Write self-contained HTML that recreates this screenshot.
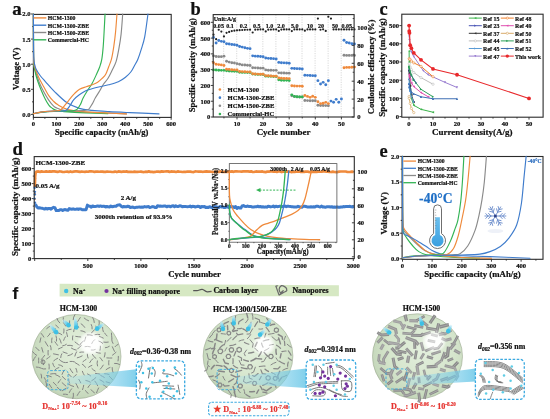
<!DOCTYPE html>
<html><head><meta charset="utf-8"><style>
html,body{margin:0;padding:0;background:#fff;width:550px;height:419px;overflow:hidden}
svg{display:block;filter:blur(0.3px)}
</style></head><body>
<svg width="550" height="419" viewBox="0 0 550 419">
<rect width="550" height="419" fill="#fff"/>
<text x="12.2" y="15" font-size="19" text-anchor="start" fill="#111" stroke="#111" stroke-width="0.22" style="font-family:'Liberation Serif',serif;font-weight:bold;">a</text>
<rect x="33.4" y="14.4" width="137.8" height="103" fill="none" stroke="#2b2b2b" stroke-width="1.1"/>
<line x1="33.4" y1="117.4" x2="33.4" y2="119.8" stroke="#2b2b2b" stroke-width="0.9" />
<text x="33.4" y="125.9" font-size="6.6" text-anchor="middle" fill="#111" stroke="#111" stroke-width="0.22" style="font-family:'Liberation Serif',serif;font-weight:bold;">0</text>
<line x1="44.88" y1="117.4" x2="44.88" y2="118.8" stroke="#2b2b2b" stroke-width="0.9" />
<line x1="56.36" y1="117.4" x2="56.36" y2="119.8" stroke="#2b2b2b" stroke-width="0.9" />
<text x="56.36" y="125.9" font-size="6.6" text-anchor="middle" fill="#111" stroke="#111" stroke-width="0.22" style="font-family:'Liberation Serif',serif;font-weight:bold;">100</text>
<line x1="67.84" y1="117.4" x2="67.84" y2="118.8" stroke="#2b2b2b" stroke-width="0.9" />
<line x1="79.32" y1="117.4" x2="79.32" y2="119.8" stroke="#2b2b2b" stroke-width="0.9" />
<text x="79.32" y="125.9" font-size="6.6" text-anchor="middle" fill="#111" stroke="#111" stroke-width="0.22" style="font-family:'Liberation Serif',serif;font-weight:bold;">200</text>
<line x1="90.8" y1="117.4" x2="90.8" y2="118.8" stroke="#2b2b2b" stroke-width="0.9" />
<line x1="102.28" y1="117.4" x2="102.28" y2="119.8" stroke="#2b2b2b" stroke-width="0.9" />
<text x="102.28" y="125.9" font-size="6.6" text-anchor="middle" fill="#111" stroke="#111" stroke-width="0.22" style="font-family:'Liberation Serif',serif;font-weight:bold;">300</text>
<line x1="113.76" y1="117.4" x2="113.76" y2="118.8" stroke="#2b2b2b" stroke-width="0.9" />
<line x1="125.24" y1="117.4" x2="125.24" y2="119.8" stroke="#2b2b2b" stroke-width="0.9" />
<text x="125.24" y="125.9" font-size="6.6" text-anchor="middle" fill="#111" stroke="#111" stroke-width="0.22" style="font-family:'Liberation Serif',serif;font-weight:bold;">400</text>
<line x1="136.72" y1="117.4" x2="136.72" y2="118.8" stroke="#2b2b2b" stroke-width="0.9" />
<line x1="148.2" y1="117.4" x2="148.2" y2="119.8" stroke="#2b2b2b" stroke-width="0.9" />
<text x="148.2" y="125.9" font-size="6.6" text-anchor="middle" fill="#111" stroke="#111" stroke-width="0.22" style="font-family:'Liberation Serif',serif;font-weight:bold;">500</text>
<line x1="159.68" y1="117.4" x2="159.68" y2="118.8" stroke="#2b2b2b" stroke-width="0.9" />
<line x1="171.16" y1="117.4" x2="171.16" y2="119.8" stroke="#2b2b2b" stroke-width="0.9" />
<text x="171.16" y="125.9" font-size="6.6" text-anchor="middle" fill="#111" stroke="#111" stroke-width="0.22" style="font-family:'Liberation Serif',serif;font-weight:bold;">600</text>
<line x1="33.4" y1="114.4" x2="31" y2="114.4" stroke="#2b2b2b" stroke-width="0.9" />
<text x="30.6" y="116.8" font-size="6.6" text-anchor="end" fill="#111" stroke="#111" stroke-width="0.22" style="font-family:'Liberation Serif',serif;font-weight:bold;">0.0</text>
<line x1="33.4" y1="101.85" x2="32" y2="101.85" stroke="#2b2b2b" stroke-width="0.9" />
<line x1="33.4" y1="89.3" x2="31" y2="89.3" stroke="#2b2b2b" stroke-width="0.9" />
<text x="30.6" y="91.7" font-size="6.6" text-anchor="end" fill="#111" stroke="#111" stroke-width="0.22" style="font-family:'Liberation Serif',serif;font-weight:bold;">0.5</text>
<line x1="33.4" y1="76.75" x2="32" y2="76.75" stroke="#2b2b2b" stroke-width="0.9" />
<line x1="33.4" y1="64.2" x2="31" y2="64.2" stroke="#2b2b2b" stroke-width="0.9" />
<text x="30.6" y="66.6" font-size="6.6" text-anchor="end" fill="#111" stroke="#111" stroke-width="0.22" style="font-family:'Liberation Serif',serif;font-weight:bold;">1.0</text>
<line x1="33.4" y1="51.65" x2="32" y2="51.65" stroke="#2b2b2b" stroke-width="0.9" />
<line x1="33.4" y1="39.1" x2="31" y2="39.1" stroke="#2b2b2b" stroke-width="0.9" />
<text x="30.6" y="41.5" font-size="6.6" text-anchor="end" fill="#111" stroke="#111" stroke-width="0.22" style="font-family:'Liberation Serif',serif;font-weight:bold;">1.5</text>
<line x1="33.4" y1="26.55" x2="32" y2="26.55" stroke="#2b2b2b" stroke-width="0.9" />
<line x1="33.4" y1="14" x2="31" y2="14" stroke="#2b2b2b" stroke-width="0.9" />
<text x="30.6" y="16.4" font-size="6.6" text-anchor="end" fill="#111" stroke="#111" stroke-width="0.22" style="font-family:'Liberation Serif',serif;font-weight:bold;">2.0</text>
<text x="101.7" y="135" font-size="8.55" text-anchor="middle" fill="#111" stroke="#111" stroke-width="0.22" style="font-family:'Liberation Serif',serif;font-weight:bold;">Specific capacity (mAh/g)</text>
<text x="0" y="0" font-size="8.8" text-anchor="middle" fill="#111" stroke="#111" stroke-width="0.22" style="font-family:'Liberation Serif',serif;font-weight:bold;" transform="translate(18.7 68.7) rotate(-90)">Voltage (V)</text>
<g fill="none" stroke-width="1.05" stroke-linecap="round">
<path d="M33.4,14 C33.41,18.18 33.43,31.57 33.47,39.1 C33.51,46.63 33.53,54.66 33.63,59.18 C33.73,63.7 33.67,63.87 34.09,66.21 C34.51,68.55 35.28,70.48 36.16,73.24 C37.04,76 38.11,79.68 39.37,82.77 C40.63,85.87 42.2,88.97 43.73,91.81 C45.26,94.65 47.02,97.58 48.55,99.84 C50.08,102.1 51.61,104.03 52.92,105.36 C54.22,106.7 54.48,107.04 56.36,107.87 C58.24,108.71 60.34,109.71 64.17,110.38 C67.99,111.05 72.97,111.47 79.32,111.89 C85.67,112.31 94.44,112.56 102.28,112.89 C110.12,113.23 122.37,113.73 126.39,113.9" stroke="#8a8a8a" stroke-width="1.15" fill="none" />
<path d="M33.4,14 C33.41,18.18 33.43,31.57 33.47,39.1 C33.51,46.63 33.53,54.66 33.63,59.18 C33.73,63.7 33.74,63.7 34.09,66.21 C34.43,68.72 35.08,71.73 35.7,74.24 C36.31,76.75 36.81,78.51 37.76,81.27 C38.72,84.03 40.13,87.71 41.44,90.81 C42.74,93.9 44.31,97.42 45.57,99.84 C46.83,102.27 47.98,104.03 49.01,105.36 C50.05,106.7 50.54,107.04 51.77,107.87 C52.99,108.71 53.68,109.71 56.36,110.38 C59.04,111.05 62.87,111.47 67.84,111.89 C72.81,112.31 79.55,112.6 86.21,112.89 C92.87,113.19 104.19,113.52 107.79,113.65" stroke="#33b455" stroke-width="1.15" fill="none" />
<path d="M33.4,14 C33.41,18.18 33.43,31.74 33.47,39.1 C33.51,46.46 33.53,53.99 33.63,58.18 C33.73,62.36 33.67,62.02 34.09,64.2 C34.51,66.38 35.28,68.8 36.16,71.23 C37.04,73.65 38.11,76.16 39.37,78.76 C40.63,81.35 42.2,84.03 43.73,86.79 C45.26,89.55 46.91,92.9 48.55,95.32 C50.2,97.75 52.04,99.76 53.6,101.35 C55.17,102.94 55.71,103.52 57.97,104.86 C60.22,106.2 63.59,108.29 67.15,109.38 C70.71,110.47 73.85,110.84 79.32,111.39 C84.79,111.93 92.14,112.22 99.98,112.64 C107.83,113.06 121.99,113.69 126.39,113.9" stroke="#ef8a3c" stroke-width="1.15" fill="none" />
<path d="M33.4,14 C33.42,17.35 33.43,26.97 33.49,34.08 C33.55,41.19 33.57,51.65 33.74,56.67 C33.92,61.69 34.15,62.11 34.55,64.2 C34.95,66.29 35.2,67.3 36.16,69.22 C37.11,71.14 38.72,73.65 40.29,75.75 C41.86,77.84 43.16,79.09 45.57,81.77 C47.98,84.45 51.16,88.3 54.75,91.81 C58.35,95.32 63.06,100.09 67.15,102.85 C71.25,105.61 75.19,107.12 79.32,108.38 C83.45,109.63 86.97,109.84 91.95,110.38 C96.92,110.93 102.85,111.26 109.17,111.64 C115.48,112.02 121.53,112.27 129.83,112.64 C138.14,113.02 154.13,113.69 158.99,113.9" stroke="#3f7ccc" stroke-width="1.15" fill="none" />
<path d="M33.4,113.65 C35.7,113.31 41.44,112.1 47.18,111.64 C52.92,111.18 61.91,111.05 67.84,110.89 C73.77,110.72 79.32,110.89 82.76,110.64 C86.21,110.38 86.97,110.43 88.5,109.38 C90.03,108.33 90.8,106.28 91.95,104.36 C93.1,102.44 94.09,100.09 95.39,97.83 C96.69,95.58 98.42,93.07 99.75,90.81 C101.09,88.55 102.05,86.37 103.43,84.28 C104.81,82.19 106.57,80.6 108.02,78.26 C109.47,75.91 110.81,72.98 112.15,70.22 C113.49,67.46 114.95,65.2 116.06,61.69 C117.17,58.18 117.97,53.74 118.81,49.14 C119.65,44.54 120.46,39.94 121.11,34.08 C121.76,28.22 122.45,17.35 122.71,14" stroke="#8a8a8a" stroke-width="1.15" fill="none" />
<path d="M33.4,113.65 C35.31,113.35 40.29,112.31 44.88,111.89 C49.47,111.47 56.36,111.3 60.95,111.14 C65.54,110.97 69.75,111.18 72.43,110.89 C75.11,110.59 75.68,110.47 77.02,109.38 C78.36,108.29 79.47,106.2 80.47,104.36 C81.46,102.52 81.85,100.6 82.99,98.34 C84.14,96.08 85.83,93.32 87.36,90.81 C88.89,88.3 90.65,86.04 92.18,83.28 C93.71,80.52 95.28,77 96.54,74.24 C97.8,71.48 98.87,69.22 99.75,66.71 C100.63,64.2 101.25,62.53 101.82,59.18 C102.39,55.83 102.82,51.23 103.2,46.63 C103.58,42.03 103.81,37.01 104.12,31.57 C104.42,26.13 104.88,16.93 105.04,14" stroke="#33b455" stroke-width="1.15" fill="none" />
<path d="M33.4,113.65 C34.93,113.35 38.76,112.35 42.58,111.89 C46.41,111.43 52.53,111.1 56.36,110.89 C60.19,110.68 63.25,111.56 65.54,110.64 C67.84,109.71 68.8,107.16 70.14,105.36 C71.48,103.57 72.05,101.6 73.58,99.84 C75.11,98.09 77.29,96.33 79.32,94.82 C81.35,93.32 83.64,91.81 85.75,90.81 C87.85,89.8 89.61,89.47 91.95,88.8 C94.28,88.13 96.96,87.46 99.75,86.79 C102.55,86.12 105.61,85.62 108.71,84.78 C111.81,83.95 115.56,83.03 118.35,81.77 C121.15,80.52 123.36,78.93 125.47,77.25 C127.57,75.58 129.49,73.65 130.98,71.73 C132.47,69.81 133.28,67.8 134.42,65.71 C135.57,63.61 136.72,61.94 137.87,59.18 C139.02,56.42 140.16,52.91 141.31,49.14 C142.46,45.38 143.65,42.45 144.76,36.59 C145.87,30.73 147.43,17.77 147.97,14" stroke="#3f7ccc" stroke-width="1.15" fill="none" />
<path d="M33.4,113.65 C34.93,113.35 39.14,112.35 42.58,111.89 C46.03,111.43 51.08,111.22 54.06,110.89 C57.05,110.55 58.58,110.97 60.49,109.88 C62.41,108.79 63.9,106.28 65.54,104.36 C67.19,102.44 68.83,100.18 70.37,98.34 C71.9,96.5 73.2,94.82 74.73,93.32 C76.26,91.81 77.64,90.39 79.55,89.3 C81.46,88.21 84.1,87.54 86.21,86.79 C88.31,86.04 90.26,85.54 92.18,84.78 C94.09,84.03 96,83.36 97.69,82.27 C99.37,81.18 100.94,79.59 102.28,78.26 C103.62,76.92 104.65,76.16 105.72,74.24 C106.8,72.32 107.75,69.22 108.71,66.71 C109.67,64.2 110.62,62.53 111.46,59.18 C112.31,55.83 113.07,51.23 113.76,46.63 C114.45,42.03 115.06,37.01 115.6,31.57 C116.13,26.13 116.74,16.93 116.97,14" stroke="#ef8a3c" stroke-width="1.15" fill="none" />
</g>
<line x1="33.6" y1="17.9" x2="46.3" y2="17.9" stroke="#ef8a3c" stroke-width="1.4" />
<text x="0" y="0" font-size="6.6" text-anchor="start" fill="#111" stroke="#111" stroke-width="0.22" style="font-family:'Liberation Serif',serif;font-weight:bold;" transform="translate(47.8 20.2) scale(0.88,1)">HCM-1300</text>
<line x1="33.6" y1="25.2" x2="46.3" y2="25.2" stroke="#3f7ccc" stroke-width="1.4" />
<text x="0" y="0" font-size="6.6" text-anchor="start" fill="#111" stroke="#111" stroke-width="0.22" style="font-family:'Liberation Serif',serif;font-weight:bold;" transform="translate(47.8 27.5) scale(0.88,1)">HCM-1300-ZBE</text>
<line x1="33.6" y1="32.5" x2="46.3" y2="32.5" stroke="#8a8a8a" stroke-width="1.4" />
<text x="0" y="0" font-size="6.6" text-anchor="start" fill="#111" stroke="#111" stroke-width="0.22" style="font-family:'Liberation Serif',serif;font-weight:bold;" transform="translate(47.8 34.8) scale(0.88,1)">HCM-1500-ZBE</text>
<line x1="33.6" y1="39.8" x2="46.3" y2="39.8" stroke="#33b455" stroke-width="1.4" />
<text x="0" y="0" font-size="6.6" text-anchor="start" fill="#111" stroke="#111" stroke-width="0.22" style="font-family:'Liberation Serif',serif;font-weight:bold;" transform="translate(47.8 42.1) scale(0.88,1)">Commercial-HC</text>
<text x="190.6" y="15" font-size="18.4" text-anchor="start" fill="#111" stroke="#111" stroke-width="0.22" style="font-family:'Liberation Serif',serif;font-weight:bold;">b</text>
<line x1="223.66" y1="14.6" x2="223.66" y2="117" stroke="#c8c8c8" stroke-width="0.7" stroke-dasharray="1.2,1.2"/>
<line x1="236.72" y1="14.6" x2="236.72" y2="117" stroke="#c8c8c8" stroke-width="0.7" stroke-dasharray="1.2,1.2"/>
<line x1="249.78" y1="14.6" x2="249.78" y2="117" stroke="#c8c8c8" stroke-width="0.7" stroke-dasharray="1.2,1.2"/>
<line x1="262.84" y1="14.6" x2="262.84" y2="117" stroke="#c8c8c8" stroke-width="0.7" stroke-dasharray="1.2,1.2"/>
<line x1="275.9" y1="14.6" x2="275.9" y2="117" stroke="#c8c8c8" stroke-width="0.7" stroke-dasharray="1.2,1.2"/>
<line x1="288.96" y1="14.6" x2="288.96" y2="117" stroke="#c8c8c8" stroke-width="0.7" stroke-dasharray="1.2,1.2"/>
<line x1="302.02" y1="14.6" x2="302.02" y2="117" stroke="#c8c8c8" stroke-width="0.7" stroke-dasharray="1.2,1.2"/>
<line x1="315.08" y1="14.6" x2="315.08" y2="117" stroke="#c8c8c8" stroke-width="0.7" stroke-dasharray="1.2,1.2"/>
<line x1="328.14" y1="14.6" x2="328.14" y2="117" stroke="#c8c8c8" stroke-width="0.7" stroke-dasharray="1.2,1.2"/>
<line x1="341.2" y1="14.6" x2="341.2" y2="117" stroke="#c8c8c8" stroke-width="0.7" stroke-dasharray="1.2,1.2"/>
<line x1="223.95" y1="117" x2="223.95" y2="118.4" stroke="#2b2b2b" stroke-width="0.9" />
<line x1="237" y1="117" x2="237" y2="119.4" stroke="#2b2b2b" stroke-width="0.9" />
<text x="237" y="125.5" font-size="6.6" text-anchor="middle" fill="#111" stroke="#111" stroke-width="0.22" style="font-family:'Liberation Serif',serif;font-weight:bold;">10</text>
<line x1="250.05" y1="117" x2="250.05" y2="118.4" stroke="#2b2b2b" stroke-width="0.9" />
<line x1="263.1" y1="117" x2="263.1" y2="119.4" stroke="#2b2b2b" stroke-width="0.9" />
<text x="263.1" y="125.5" font-size="6.6" text-anchor="middle" fill="#111" stroke="#111" stroke-width="0.22" style="font-family:'Liberation Serif',serif;font-weight:bold;">20</text>
<line x1="276.15" y1="117" x2="276.15" y2="118.4" stroke="#2b2b2b" stroke-width="0.9" />
<line x1="289.2" y1="117" x2="289.2" y2="119.4" stroke="#2b2b2b" stroke-width="0.9" />
<text x="289.2" y="125.5" font-size="6.6" text-anchor="middle" fill="#111" stroke="#111" stroke-width="0.22" style="font-family:'Liberation Serif',serif;font-weight:bold;">30</text>
<line x1="302.25" y1="117" x2="302.25" y2="118.4" stroke="#2b2b2b" stroke-width="0.9" />
<line x1="315.3" y1="117" x2="315.3" y2="119.4" stroke="#2b2b2b" stroke-width="0.9" />
<text x="315.3" y="125.5" font-size="6.6" text-anchor="middle" fill="#111" stroke="#111" stroke-width="0.22" style="font-family:'Liberation Serif',serif;font-weight:bold;">40</text>
<line x1="328.35" y1="117" x2="328.35" y2="118.4" stroke="#2b2b2b" stroke-width="0.9" />
<line x1="341.4" y1="117" x2="341.4" y2="119.4" stroke="#2b2b2b" stroke-width="0.9" />
<text x="341.4" y="125.5" font-size="6.6" text-anchor="middle" fill="#111" stroke="#111" stroke-width="0.22" style="font-family:'Liberation Serif',serif;font-weight:bold;">50</text>
<line x1="213.2" y1="117" x2="210.8" y2="117" stroke="#2b2b2b" stroke-width="0.9" />
<text x="210.4" y="119.4" font-size="6.6" text-anchor="end" fill="#111" stroke="#111" stroke-width="0.22" style="font-family:'Liberation Serif',serif;font-weight:bold;">0</text>
<line x1="213.2" y1="109.11" x2="211.8" y2="109.11" stroke="#2b2b2b" stroke-width="0.9" />
<line x1="213.2" y1="101.22" x2="210.8" y2="101.22" stroke="#2b2b2b" stroke-width="0.9" />
<text x="210.4" y="103.62" font-size="6.6" text-anchor="end" fill="#111" stroke="#111" stroke-width="0.22" style="font-family:'Liberation Serif',serif;font-weight:bold;">100</text>
<line x1="213.2" y1="93.33" x2="211.8" y2="93.33" stroke="#2b2b2b" stroke-width="0.9" />
<line x1="213.2" y1="85.44" x2="210.8" y2="85.44" stroke="#2b2b2b" stroke-width="0.9" />
<text x="210.4" y="87.84" font-size="6.6" text-anchor="end" fill="#111" stroke="#111" stroke-width="0.22" style="font-family:'Liberation Serif',serif;font-weight:bold;">200</text>
<line x1="213.2" y1="77.55" x2="211.8" y2="77.55" stroke="#2b2b2b" stroke-width="0.9" />
<line x1="213.2" y1="69.66" x2="210.8" y2="69.66" stroke="#2b2b2b" stroke-width="0.9" />
<text x="210.4" y="72.06" font-size="6.6" text-anchor="end" fill="#111" stroke="#111" stroke-width="0.22" style="font-family:'Liberation Serif',serif;font-weight:bold;">300</text>
<line x1="213.2" y1="61.77" x2="211.8" y2="61.77" stroke="#2b2b2b" stroke-width="0.9" />
<line x1="213.2" y1="53.88" x2="210.8" y2="53.88" stroke="#2b2b2b" stroke-width="0.9" />
<text x="210.4" y="56.28" font-size="6.6" text-anchor="end" fill="#111" stroke="#111" stroke-width="0.22" style="font-family:'Liberation Serif',serif;font-weight:bold;">400</text>
<line x1="213.2" y1="45.99" x2="211.8" y2="45.99" stroke="#2b2b2b" stroke-width="0.9" />
<line x1="213.2" y1="38.1" x2="210.8" y2="38.1" stroke="#2b2b2b" stroke-width="0.9" />
<text x="210.4" y="40.5" font-size="6.6" text-anchor="end" fill="#111" stroke="#111" stroke-width="0.22" style="font-family:'Liberation Serif',serif;font-weight:bold;">500</text>
<line x1="213.2" y1="30.21" x2="211.8" y2="30.21" stroke="#2b2b2b" stroke-width="0.9" />
<line x1="213.2" y1="22.32" x2="210.8" y2="22.32" stroke="#2b2b2b" stroke-width="0.9" />
<text x="210.4" y="24.72" font-size="6.6" text-anchor="end" fill="#111" stroke="#111" stroke-width="0.22" style="font-family:'Liberation Serif',serif;font-weight:bold;">600</text>
<line x1="354.1" y1="117" x2="351.7" y2="117" stroke="#2b2b2b" stroke-width="0.9" />
<text x="357.3" y="119.4" font-size="6.6" text-anchor="start" fill="#111" stroke="#111" stroke-width="0.22" style="font-family:'Liberation Serif',serif;font-weight:bold;">0</text>
<line x1="354.1" y1="108.05" x2="352.7" y2="108.05" stroke="#2b2b2b" stroke-width="0.9" />
<line x1="354.1" y1="99.1" x2="351.7" y2="99.1" stroke="#2b2b2b" stroke-width="0.9" />
<text x="357.3" y="101.5" font-size="6.6" text-anchor="start" fill="#111" stroke="#111" stroke-width="0.22" style="font-family:'Liberation Serif',serif;font-weight:bold;">20</text>
<line x1="354.1" y1="90.15" x2="352.7" y2="90.15" stroke="#2b2b2b" stroke-width="0.9" />
<line x1="354.1" y1="81.2" x2="351.7" y2="81.2" stroke="#2b2b2b" stroke-width="0.9" />
<text x="357.3" y="83.6" font-size="6.6" text-anchor="start" fill="#111" stroke="#111" stroke-width="0.22" style="font-family:'Liberation Serif',serif;font-weight:bold;">40</text>
<line x1="354.1" y1="72.25" x2="352.7" y2="72.25" stroke="#2b2b2b" stroke-width="0.9" />
<line x1="354.1" y1="63.3" x2="351.7" y2="63.3" stroke="#2b2b2b" stroke-width="0.9" />
<text x="357.3" y="65.7" font-size="6.6" text-anchor="start" fill="#111" stroke="#111" stroke-width="0.22" style="font-family:'Liberation Serif',serif;font-weight:bold;">60</text>
<line x1="354.1" y1="54.35" x2="352.7" y2="54.35" stroke="#2b2b2b" stroke-width="0.9" />
<line x1="354.1" y1="45.4" x2="351.7" y2="45.4" stroke="#2b2b2b" stroke-width="0.9" />
<text x="357.3" y="47.8" font-size="6.6" text-anchor="start" fill="#111" stroke="#111" stroke-width="0.22" style="font-family:'Liberation Serif',serif;font-weight:bold;">80</text>
<line x1="354.1" y1="36.45" x2="352.7" y2="36.45" stroke="#2b2b2b" stroke-width="0.9" />
<line x1="354.1" y1="27.5" x2="351.7" y2="27.5" stroke="#2b2b2b" stroke-width="0.9" />
<text x="357.3" y="29.9" font-size="6.6" text-anchor="start" fill="#111" stroke="#111" stroke-width="0.22" style="font-family:'Liberation Serif',serif;font-weight:bold;">100</text>
<line x1="354.1" y1="18.55" x2="352.7" y2="18.55" stroke="#2b2b2b" stroke-width="0.9" />
<text x="283.6" y="135.2" font-size="8.95" text-anchor="middle" fill="#111" stroke="#111" stroke-width="0.22" style="font-family:'Liberation Serif',serif;font-weight:bold;">Cycle number</text>
<text x="0" y="0" font-size="8.6" text-anchor="middle" fill="#111" stroke="#111" stroke-width="0.22" style="font-family:'Liberation Serif',serif;font-weight:bold;" transform="translate(195.3 65.2) rotate(-90)">Specific capacity (mAh/g)</text>
<text x="0" y="0" font-size="8.7" text-anchor="middle" fill="#111" stroke="#111" stroke-width="0.22" style="font-family:'Liberation Serif',serif;font-weight:bold;" transform="translate(373.8 67) rotate(-90)">Coulombic efficiency (%)</text>
<circle cx="213.51" cy="55.85" r="1.45" fill="#8a8a8a"/>
<circle cx="216.12" cy="56.47" r="1.45" fill="#8a8a8a"/>
<circle cx="218.73" cy="56.63" r="1.45" fill="#8a8a8a"/>
<circle cx="221.34" cy="56.63" r="1.45" fill="#8a8a8a"/>
<circle cx="223.95" cy="56.16" r="1.45" fill="#8a8a8a"/>
<circle cx="226.56" cy="61.31" r="1.45" fill="#8a8a8a"/>
<circle cx="229.17" cy="62.09" r="1.45" fill="#8a8a8a"/>
<circle cx="231.78" cy="62.71" r="1.45" fill="#8a8a8a"/>
<circle cx="234.39" cy="63.02" r="1.45" fill="#8a8a8a"/>
<circle cx="237" cy="63.65" r="1.45" fill="#8a8a8a"/>
<circle cx="239.61" cy="64.27" r="1.45" fill="#8a8a8a"/>
<circle cx="242.22" cy="64.9" r="1.45" fill="#8a8a8a"/>
<circle cx="244.83" cy="65.05" r="1.45" fill="#8a8a8a"/>
<circle cx="247.44" cy="65.21" r="1.45" fill="#8a8a8a"/>
<circle cx="250.05" cy="65.52" r="1.45" fill="#8a8a8a"/>
<circle cx="252.66" cy="67.7" r="1.45" fill="#8a8a8a"/>
<circle cx="255.27" cy="67.86" r="1.45" fill="#8a8a8a"/>
<circle cx="257.88" cy="68.02" r="1.45" fill="#8a8a8a"/>
<circle cx="260.49" cy="68.17" r="1.45" fill="#8a8a8a"/>
<circle cx="263.1" cy="68.17" r="1.45" fill="#8a8a8a"/>
<circle cx="265.71" cy="69.89" r="1.45" fill="#8a8a8a"/>
<circle cx="268.32" cy="70.2" r="1.45" fill="#8a8a8a"/>
<circle cx="270.93" cy="70.2" r="1.45" fill="#8a8a8a"/>
<circle cx="273.54" cy="70.36" r="1.45" fill="#8a8a8a"/>
<circle cx="276.15" cy="70.36" r="1.45" fill="#8a8a8a"/>
<circle cx="278.76" cy="72.85" r="1.45" fill="#8a8a8a"/>
<circle cx="281.37" cy="73.01" r="1.45" fill="#8a8a8a"/>
<circle cx="283.98" cy="73.01" r="1.45" fill="#8a8a8a"/>
<circle cx="286.59" cy="73.16" r="1.45" fill="#8a8a8a"/>
<circle cx="289.2" cy="73.16" r="1.45" fill="#8a8a8a"/>
<circle cx="291.81" cy="95.78" r="1.45" fill="#8a8a8a"/>
<circle cx="294.42" cy="96.56" r="1.45" fill="#8a8a8a"/>
<circle cx="297.03" cy="96.88" r="1.45" fill="#8a8a8a"/>
<circle cx="299.64" cy="97.03" r="1.45" fill="#8a8a8a"/>
<circle cx="302.25" cy="97.03" r="1.45" fill="#8a8a8a"/>
<circle cx="304.86" cy="100.46" r="1.45" fill="#8a8a8a"/>
<circle cx="307.47" cy="100.62" r="1.45" fill="#8a8a8a"/>
<circle cx="310.08" cy="100.78" r="1.45" fill="#8a8a8a"/>
<circle cx="312.69" cy="100.78" r="1.45" fill="#8a8a8a"/>
<circle cx="315.3" cy="100.78" r="1.45" fill="#8a8a8a"/>
<circle cx="317.91" cy="105.3" r="1.45" fill="#8a8a8a"/>
<circle cx="320.52" cy="105.46" r="1.45" fill="#8a8a8a"/>
<circle cx="323.13" cy="105.46" r="1.45" fill="#8a8a8a"/>
<circle cx="325.74" cy="105.61" r="1.45" fill="#8a8a8a"/>
<circle cx="328.35" cy="105.77" r="1.45" fill="#8a8a8a"/>
<circle cx="344.01" cy="55.22" r="1.45" fill="#8a8a8a"/>
<circle cx="346.62" cy="55.38" r="1.45" fill="#8a8a8a"/>
<circle cx="349.23" cy="55.38" r="1.45" fill="#8a8a8a"/>
<circle cx="351.84" cy="55.38" r="1.45" fill="#8a8a8a"/>
<circle cx="354.45" cy="55.38" r="1.45" fill="#8a8a8a"/>
<circle cx="213.51" cy="69.89" r="1.45" fill="#33b455"/>
<circle cx="216.12" cy="70.04" r="1.45" fill="#33b455"/>
<circle cx="218.73" cy="70.2" r="1.45" fill="#33b455"/>
<circle cx="221.34" cy="70.36" r="1.45" fill="#33b455"/>
<circle cx="223.95" cy="70.36" r="1.45" fill="#33b455"/>
<circle cx="226.56" cy="70.82" r="1.45" fill="#33b455"/>
<circle cx="229.17" cy="70.98" r="1.45" fill="#33b455"/>
<circle cx="231.78" cy="71.14" r="1.45" fill="#33b455"/>
<circle cx="234.39" cy="71.29" r="1.45" fill="#33b455"/>
<circle cx="237" cy="71.29" r="1.45" fill="#33b455"/>
<circle cx="239.61" cy="72.23" r="1.45" fill="#33b455"/>
<circle cx="242.22" cy="72.38" r="1.45" fill="#33b455"/>
<circle cx="244.83" cy="72.38" r="1.45" fill="#33b455"/>
<circle cx="247.44" cy="72.54" r="1.45" fill="#33b455"/>
<circle cx="250.05" cy="72.54" r="1.45" fill="#33b455"/>
<circle cx="252.66" cy="74.1" r="1.45" fill="#33b455"/>
<circle cx="255.27" cy="74.26" r="1.45" fill="#33b455"/>
<circle cx="257.88" cy="74.41" r="1.45" fill="#33b455"/>
<circle cx="260.49" cy="74.41" r="1.45" fill="#33b455"/>
<circle cx="263.1" cy="74.57" r="1.45" fill="#33b455"/>
<circle cx="265.71" cy="76.13" r="1.45" fill="#33b455"/>
<circle cx="268.32" cy="76.28" r="1.45" fill="#33b455"/>
<circle cx="270.93" cy="76.28" r="1.45" fill="#33b455"/>
<circle cx="273.54" cy="76.44" r="1.45" fill="#33b455"/>
<circle cx="276.15" cy="76.44" r="1.45" fill="#33b455"/>
<circle cx="278.76" cy="79.87" r="1.45" fill="#33b455"/>
<circle cx="281.37" cy="80.18" r="1.45" fill="#33b455"/>
<circle cx="283.98" cy="80.34" r="1.45" fill="#33b455"/>
<circle cx="286.59" cy="80.34" r="1.45" fill="#33b455"/>
<circle cx="289.2" cy="80.5" r="1.45" fill="#33b455"/>
<circle cx="291.81" cy="94.85" r="1.45" fill="#33b455"/>
<circle cx="294.42" cy="96.41" r="1.45" fill="#33b455"/>
<circle cx="297.03" cy="96.72" r="1.45" fill="#33b455"/>
<circle cx="299.64" cy="96.88" r="1.45" fill="#33b455"/>
<circle cx="302.25" cy="96.88" r="1.45" fill="#33b455"/>
<circle cx="213.51" cy="62.71" r="1.45" fill="#ef8a3c"/>
<circle cx="216.12" cy="64.27" r="1.45" fill="#ef8a3c"/>
<circle cx="218.73" cy="64.58" r="1.45" fill="#ef8a3c"/>
<circle cx="221.34" cy="64.9" r="1.45" fill="#ef8a3c"/>
<circle cx="223.95" cy="65.52" r="1.45" fill="#ef8a3c"/>
<circle cx="226.56" cy="69.26" r="1.45" fill="#ef8a3c"/>
<circle cx="229.17" cy="69.42" r="1.45" fill="#ef8a3c"/>
<circle cx="231.78" cy="69.73" r="1.45" fill="#ef8a3c"/>
<circle cx="234.39" cy="69.89" r="1.45" fill="#ef8a3c"/>
<circle cx="237" cy="70.04" r="1.45" fill="#ef8a3c"/>
<circle cx="239.61" cy="71.45" r="1.45" fill="#ef8a3c"/>
<circle cx="242.22" cy="71.6" r="1.45" fill="#ef8a3c"/>
<circle cx="244.83" cy="71.76" r="1.45" fill="#ef8a3c"/>
<circle cx="247.44" cy="71.92" r="1.45" fill="#ef8a3c"/>
<circle cx="250.05" cy="72.07" r="1.45" fill="#ef8a3c"/>
<circle cx="252.66" cy="73.79" r="1.45" fill="#ef8a3c"/>
<circle cx="255.27" cy="73.94" r="1.45" fill="#ef8a3c"/>
<circle cx="257.88" cy="74.1" r="1.45" fill="#ef8a3c"/>
<circle cx="260.49" cy="74.26" r="1.45" fill="#ef8a3c"/>
<circle cx="263.1" cy="74.26" r="1.45" fill="#ef8a3c"/>
<circle cx="265.71" cy="75.66" r="1.45" fill="#ef8a3c"/>
<circle cx="268.32" cy="75.82" r="1.45" fill="#ef8a3c"/>
<circle cx="270.93" cy="75.97" r="1.45" fill="#ef8a3c"/>
<circle cx="273.54" cy="76.13" r="1.45" fill="#ef8a3c"/>
<circle cx="276.15" cy="76.13" r="1.45" fill="#ef8a3c"/>
<circle cx="278.76" cy="78" r="1.45" fill="#ef8a3c"/>
<circle cx="281.37" cy="78.31" r="1.45" fill="#ef8a3c"/>
<circle cx="283.98" cy="78.47" r="1.45" fill="#ef8a3c"/>
<circle cx="286.59" cy="78.47" r="1.45" fill="#ef8a3c"/>
<circle cx="289.2" cy="78.62" r="1.45" fill="#ef8a3c"/>
<circle cx="291.81" cy="85.8" r="1.45" fill="#ef8a3c"/>
<circle cx="294.42" cy="85.96" r="1.45" fill="#ef8a3c"/>
<circle cx="297.03" cy="86.11" r="1.45" fill="#ef8a3c"/>
<circle cx="299.64" cy="86.11" r="1.45" fill="#ef8a3c"/>
<circle cx="302.25" cy="86.27" r="1.45" fill="#ef8a3c"/>
<circle cx="304.86" cy="95.47" r="1.45" fill="#ef8a3c"/>
<circle cx="307.47" cy="96.41" r="1.45" fill="#ef8a3c"/>
<circle cx="310.08" cy="97.34" r="1.45" fill="#ef8a3c"/>
<circle cx="312.69" cy="96.25" r="1.45" fill="#ef8a3c"/>
<circle cx="315.3" cy="97.34" r="1.45" fill="#ef8a3c"/>
<circle cx="317.91" cy="101.71" r="1.45" fill="#ef8a3c"/>
<circle cx="320.52" cy="103.58" r="1.45" fill="#ef8a3c"/>
<circle cx="323.13" cy="103.27" r="1.45" fill="#ef8a3c"/>
<circle cx="325.74" cy="102.34" r="1.45" fill="#ef8a3c"/>
<circle cx="328.35" cy="103.58" r="1.45" fill="#ef8a3c"/>
<circle cx="344.01" cy="67.7" r="1.45" fill="#ef8a3c"/>
<circle cx="346.62" cy="67.39" r="1.45" fill="#ef8a3c"/>
<circle cx="349.23" cy="67.39" r="1.45" fill="#ef8a3c"/>
<circle cx="351.84" cy="67.24" r="1.45" fill="#ef8a3c"/>
<circle cx="354.45" cy="67.08" r="1.45" fill="#ef8a3c"/>
<circle cx="213.51" cy="37.44" r="1.45" fill="#3f7ccc"/>
<circle cx="216.12" cy="43.06" r="1.45" fill="#3f7ccc"/>
<circle cx="218.73" cy="40.56" r="1.45" fill="#3f7ccc"/>
<circle cx="221.34" cy="41.34" r="1.45" fill="#3f7ccc"/>
<circle cx="223.95" cy="41.81" r="1.45" fill="#3f7ccc"/>
<circle cx="226.56" cy="43.68" r="1.45" fill="#3f7ccc"/>
<circle cx="229.17" cy="43.99" r="1.45" fill="#3f7ccc"/>
<circle cx="231.78" cy="44.46" r="1.45" fill="#3f7ccc"/>
<circle cx="234.39" cy="44.77" r="1.45" fill="#3f7ccc"/>
<circle cx="237" cy="45.24" r="1.45" fill="#3f7ccc"/>
<circle cx="239.61" cy="46.49" r="1.45" fill="#3f7ccc"/>
<circle cx="242.22" cy="47.11" r="1.45" fill="#3f7ccc"/>
<circle cx="244.83" cy="47.74" r="1.45" fill="#3f7ccc"/>
<circle cx="247.44" cy="48.36" r="1.45" fill="#3f7ccc"/>
<circle cx="250.05" cy="48.67" r="1.45" fill="#3f7ccc"/>
<circle cx="252.66" cy="55.85" r="1.45" fill="#3f7ccc"/>
<circle cx="255.27" cy="56.16" r="1.45" fill="#3f7ccc"/>
<circle cx="257.88" cy="56.32" r="1.45" fill="#3f7ccc"/>
<circle cx="260.49" cy="56.47" r="1.45" fill="#3f7ccc"/>
<circle cx="263.1" cy="56.78" r="1.45" fill="#3f7ccc"/>
<circle cx="265.71" cy="58.03" r="1.45" fill="#3f7ccc"/>
<circle cx="268.32" cy="58.34" r="1.45" fill="#3f7ccc"/>
<circle cx="270.93" cy="58.5" r="1.45" fill="#3f7ccc"/>
<circle cx="273.54" cy="58.66" r="1.45" fill="#3f7ccc"/>
<circle cx="276.15" cy="58.97" r="1.45" fill="#3f7ccc"/>
<circle cx="278.76" cy="62.4" r="1.45" fill="#3f7ccc"/>
<circle cx="281.37" cy="62.71" r="1.45" fill="#3f7ccc"/>
<circle cx="283.98" cy="62.87" r="1.45" fill="#3f7ccc"/>
<circle cx="286.59" cy="63.02" r="1.45" fill="#3f7ccc"/>
<circle cx="289.2" cy="63.18" r="1.45" fill="#3f7ccc"/>
<circle cx="291.81" cy="68.33" r="1.45" fill="#3f7ccc"/>
<circle cx="294.42" cy="68.48" r="1.45" fill="#3f7ccc"/>
<circle cx="297.03" cy="68.64" r="1.45" fill="#3f7ccc"/>
<circle cx="299.64" cy="68.8" r="1.45" fill="#3f7ccc"/>
<circle cx="302.25" cy="68.95" r="1.45" fill="#3f7ccc"/>
<circle cx="304.86" cy="75.19" r="1.45" fill="#3f7ccc"/>
<circle cx="307.47" cy="75.35" r="1.45" fill="#3f7ccc"/>
<circle cx="310.08" cy="75.5" r="1.45" fill="#3f7ccc"/>
<circle cx="312.69" cy="75.66" r="1.45" fill="#3f7ccc"/>
<circle cx="315.3" cy="75.82" r="1.45" fill="#3f7ccc"/>
<circle cx="317.91" cy="80.65" r="1.45" fill="#3f7ccc"/>
<circle cx="320.52" cy="83.93" r="1.45" fill="#3f7ccc"/>
<circle cx="323.13" cy="82.37" r="1.45" fill="#3f7ccc"/>
<circle cx="325.74" cy="84.71" r="1.45" fill="#3f7ccc"/>
<circle cx="328.35" cy="80.65" r="1.45" fill="#3f7ccc"/>
<circle cx="330.96" cy="101.09" r="1.45" fill="#3f7ccc"/>
<circle cx="333.57" cy="102.18" r="1.45" fill="#3f7ccc"/>
<circle cx="336.18" cy="99.37" r="1.45" fill="#3f7ccc"/>
<circle cx="338.79" cy="102.18" r="1.45" fill="#3f7ccc"/>
<circle cx="341.4" cy="99.06" r="1.45" fill="#3f7ccc"/>
<circle cx="344.01" cy="40.25" r="1.45" fill="#3f7ccc"/>
<circle cx="346.62" cy="42.43" r="1.45" fill="#3f7ccc"/>
<circle cx="349.23" cy="43.06" r="1.45" fill="#3f7ccc"/>
<circle cx="351.84" cy="43.68" r="1.45" fill="#3f7ccc"/>
<circle cx="354.45" cy="43.99" r="1.45" fill="#3f7ccc"/>
<circle cx="213.51" cy="34.66" r="1.1" fill="#222"/>
<circle cx="216.12" cy="39.14" r="1.1" fill="#222"/>
<circle cx="218.73" cy="29.74" r="1.1" fill="#222"/>
<circle cx="221.34" cy="31.53" r="1.1" fill="#222"/>
<circle cx="223.95" cy="36.45" r="1.1" fill="#222"/>
<circle cx="226.56" cy="32.87" r="1.1" fill="#222"/>
<circle cx="229.17" cy="31.97" r="1.1" fill="#222"/>
<circle cx="231.78" cy="31.08" r="1.1" fill="#222"/>
<circle cx="234.39" cy="30.63" r="1.1" fill="#222"/>
<circle cx="237" cy="30.36" r="1.1" fill="#222"/>
<circle cx="239.61" cy="30.19" r="1.1" fill="#222"/>
<circle cx="242.22" cy="30.01" r="1.1" fill="#222"/>
<circle cx="244.83" cy="29.83" r="1.1" fill="#222"/>
<circle cx="247.44" cy="29.74" r="1.1" fill="#222"/>
<circle cx="250.05" cy="29.65" r="1.1" fill="#222"/>
<circle cx="252.66" cy="32.51" r="1.1" fill="#222"/>
<circle cx="255.27" cy="29.65" r="1.1" fill="#222"/>
<circle cx="257.88" cy="29.56" r="1.1" fill="#222"/>
<circle cx="260.49" cy="29.47" r="1.1" fill="#222"/>
<circle cx="263.1" cy="29.47" r="1.1" fill="#222"/>
<circle cx="265.71" cy="31.44" r="1.1" fill="#222"/>
<circle cx="268.32" cy="29.65" r="1.1" fill="#222"/>
<circle cx="270.93" cy="29.56" r="1.1" fill="#222"/>
<circle cx="273.54" cy="29.47" r="1.1" fill="#222"/>
<circle cx="276.15" cy="29.47" r="1.1" fill="#222"/>
<circle cx="278.76" cy="30.9" r="1.1" fill="#222"/>
<circle cx="281.37" cy="29.56" r="1.1" fill="#222"/>
<circle cx="283.98" cy="29.47" r="1.1" fill="#222"/>
<circle cx="286.59" cy="29.47" r="1.1" fill="#222"/>
<circle cx="289.2" cy="29.38" r="1.1" fill="#222"/>
<circle cx="291.81" cy="31.08" r="1.1" fill="#222"/>
<circle cx="294.42" cy="29.47" r="1.1" fill="#222"/>
<circle cx="297.03" cy="29.47" r="1.1" fill="#222"/>
<circle cx="299.64" cy="29.38" r="1.1" fill="#222"/>
<circle cx="302.25" cy="29.38" r="1.1" fill="#222"/>
<circle cx="304.86" cy="30.63" r="1.1" fill="#222"/>
<circle cx="307.47" cy="29.47" r="1.1" fill="#222"/>
<circle cx="310.08" cy="29.47" r="1.1" fill="#222"/>
<circle cx="312.69" cy="29.38" r="1.1" fill="#222"/>
<circle cx="315.3" cy="29.38" r="1.1" fill="#222"/>
<circle cx="317.91" cy="18.55" r="1.1" fill="#222"/>
<circle cx="320.52" cy="29.74" r="1.1" fill="#222"/>
<circle cx="323.13" cy="29.29" r="1.1" fill="#222"/>
<circle cx="325.74" cy="30.9" r="1.1" fill="#222"/>
<circle cx="328.35" cy="16.76" r="1.1" fill="#222"/>
<circle cx="330.96" cy="18.55" r="1.1" fill="#222"/>
<circle cx="333.57" cy="29.47" r="1.1" fill="#222"/>
<circle cx="336.18" cy="29.47" r="1.1" fill="#222"/>
<circle cx="338.79" cy="29.47" r="1.1" fill="#222"/>
<circle cx="341.4" cy="29.47" r="1.1" fill="#222"/>
<circle cx="344.01" cy="29.47" r="1.1" fill="#222"/>
<circle cx="346.62" cy="29.47" r="1.1" fill="#222"/>
<circle cx="349.23" cy="29.47" r="1.1" fill="#222"/>
<circle cx="351.84" cy="29.47" r="1.1" fill="#222"/>
<circle cx="354.45" cy="29.47" r="1.1" fill="#222"/>
<text x="0" y="0" font-size="6.6" text-anchor="start" fill="#111" stroke="#111" stroke-width="0.22" style="font-family:'Liberation Serif',serif;font-weight:bold;" transform="translate(213.8 21.2) scale(0.9,1)">Unit:A/g</text>
<text x="0" y="0" font-size="6.8" text-anchor="middle" fill="#111" stroke="#111" stroke-width="0.22" style="font-family:'Liberation Serif',serif;font-weight:bold;" transform="translate(218.6 27.6) scale(0.9,1)">0.05</text>
<text x="0" y="0" font-size="6.8" text-anchor="middle" fill="#111" stroke="#111" stroke-width="0.22" style="font-family:'Liberation Serif',serif;font-weight:bold;" transform="translate(230 27.6) scale(0.9,1)">0.1</text>
<text x="0" y="0" font-size="6.8" text-anchor="middle" fill="#111" stroke="#111" stroke-width="0.22" style="font-family:'Liberation Serif',serif;font-weight:bold;" transform="translate(243.6 27.6) scale(0.9,1)">0.2</text>
<text x="0" y="0" font-size="6.8" text-anchor="middle" fill="#111" stroke="#111" stroke-width="0.22" style="font-family:'Liberation Serif',serif;font-weight:bold;" transform="translate(256.8 27.6) scale(0.9,1)">0.5</text>
<text x="0" y="0" font-size="6.8" text-anchor="middle" fill="#111" stroke="#111" stroke-width="0.22" style="font-family:'Liberation Serif',serif;font-weight:bold;" transform="translate(269.5 27.6) scale(0.9,1)">1.0</text>
<text x="0" y="0" font-size="6.8" text-anchor="middle" fill="#111" stroke="#111" stroke-width="0.22" style="font-family:'Liberation Serif',serif;font-weight:bold;" transform="translate(281 27.6) scale(0.9,1)">2.0</text>
<text x="0" y="0" font-size="6.8" text-anchor="middle" fill="#111" stroke="#111" stroke-width="0.22" style="font-family:'Liberation Serif',serif;font-weight:bold;" transform="translate(294.8 27.6) scale(0.9,1)">5.0</text>
<text x="0" y="0" font-size="6.8" text-anchor="middle" fill="#111" stroke="#111" stroke-width="0.22" style="font-family:'Liberation Serif',serif;font-weight:bold;" transform="translate(310 27.6) scale(0.9,1)">10</text>
<text x="0" y="0" font-size="6.8" text-anchor="middle" fill="#111" stroke="#111" stroke-width="0.22" style="font-family:'Liberation Serif',serif;font-weight:bold;" transform="translate(321 27.6) scale(0.9,1)">20</text>
<text x="0" y="0" font-size="6.8" text-anchor="middle" fill="#111" stroke="#111" stroke-width="0.22" style="font-family:'Liberation Serif',serif;font-weight:bold;" transform="translate(335 27.6) scale(0.9,1)">50</text>
<text x="0" y="0" font-size="6.8" text-anchor="middle" fill="#111" stroke="#111" stroke-width="0.22" style="font-family:'Liberation Serif',serif;font-weight:bold;" transform="translate(346.8 27.6) scale(0.9,1)">0.05</text>
<circle cx="219.9" cy="89.5" r="1.3" fill="#ef8a3c"/>
<text x="227.5" y="91.8" font-size="6.6" text-anchor="start" fill="#111" stroke="#111" stroke-width="0.22" style="font-family:'Liberation Serif',serif;font-weight:bold;">HCM-1300</text>
<circle cx="219.9" cy="97.65" r="1.3" fill="#3f7ccc"/>
<text x="227.5" y="99.95" font-size="6.6" text-anchor="start" fill="#111" stroke="#111" stroke-width="0.22" style="font-family:'Liberation Serif',serif;font-weight:bold;">HCM-1300-ZBE</text>
<circle cx="219.9" cy="105.8" r="1.3" fill="#8a8a8a"/>
<text x="227.5" y="108.1" font-size="6.6" text-anchor="start" fill="#111" stroke="#111" stroke-width="0.22" style="font-family:'Liberation Serif',serif;font-weight:bold;">HCM-1500-ZBE</text>
<circle cx="219.9" cy="113.95" r="1.3" fill="#33b455"/>
<text x="227.5" y="116.25" font-size="6.6" text-anchor="start" fill="#111" stroke="#111" stroke-width="0.22" style="font-family:'Liberation Serif',serif;font-weight:bold;">Commercial-HC</text>
<rect x="213.2" y="14.6" width="140.9" height="102.4" fill="none" stroke="#2b2b2b" stroke-width="1.1"/>
<text x="379.4" y="14.8" font-size="18.4" text-anchor="start" fill="#111" stroke="#111" stroke-width="0.22" style="font-family:'Liberation Serif',serif;font-weight:bold;">c</text>
<line x1="409" y1="117.2" x2="409" y2="119.6" stroke="#2b2b2b" stroke-width="0.9" />
<text x="409" y="125.7" font-size="6.6" text-anchor="middle" fill="#111" stroke="#111" stroke-width="0.22" style="font-family:'Liberation Serif',serif;font-weight:bold;">0</text>
<line x1="421" y1="117.2" x2="421" y2="118.6" stroke="#2b2b2b" stroke-width="0.9" />
<line x1="433" y1="117.2" x2="433" y2="119.6" stroke="#2b2b2b" stroke-width="0.9" />
<text x="433" y="125.7" font-size="6.6" text-anchor="middle" fill="#111" stroke="#111" stroke-width="0.22" style="font-family:'Liberation Serif',serif;font-weight:bold;">10</text>
<line x1="445" y1="117.2" x2="445" y2="118.6" stroke="#2b2b2b" stroke-width="0.9" />
<line x1="457" y1="117.2" x2="457" y2="119.6" stroke="#2b2b2b" stroke-width="0.9" />
<text x="457" y="125.7" font-size="6.6" text-anchor="middle" fill="#111" stroke="#111" stroke-width="0.22" style="font-family:'Liberation Serif',serif;font-weight:bold;">20</text>
<line x1="469" y1="117.2" x2="469" y2="118.6" stroke="#2b2b2b" stroke-width="0.9" />
<line x1="481" y1="117.2" x2="481" y2="119.6" stroke="#2b2b2b" stroke-width="0.9" />
<text x="481" y="125.7" font-size="6.6" text-anchor="middle" fill="#111" stroke="#111" stroke-width="0.22" style="font-family:'Liberation Serif',serif;font-weight:bold;">30</text>
<line x1="493" y1="117.2" x2="493" y2="118.6" stroke="#2b2b2b" stroke-width="0.9" />
<line x1="505" y1="117.2" x2="505" y2="119.6" stroke="#2b2b2b" stroke-width="0.9" />
<text x="505" y="125.7" font-size="6.6" text-anchor="middle" fill="#111" stroke="#111" stroke-width="0.22" style="font-family:'Liberation Serif',serif;font-weight:bold;">40</text>
<line x1="517" y1="117.2" x2="517" y2="118.6" stroke="#2b2b2b" stroke-width="0.9" />
<line x1="529" y1="117.2" x2="529" y2="119.6" stroke="#2b2b2b" stroke-width="0.9" />
<text x="529" y="125.7" font-size="6.6" text-anchor="middle" fill="#111" stroke="#111" stroke-width="0.22" style="font-family:'Liberation Serif',serif;font-weight:bold;">50</text>
<line x1="401.8" y1="116.6" x2="399.4" y2="116.6" stroke="#2b2b2b" stroke-width="0.9" />
<text x="399" y="119" font-size="6.6" text-anchor="end" fill="#111" stroke="#111" stroke-width="0.22" style="font-family:'Liberation Serif',serif;font-weight:bold;">0</text>
<line x1="401.8" y1="107.5" x2="400.4" y2="107.5" stroke="#2b2b2b" stroke-width="0.9" />
<line x1="401.8" y1="98.4" x2="399.4" y2="98.4" stroke="#2b2b2b" stroke-width="0.9" />
<text x="399" y="100.8" font-size="6.6" text-anchor="end" fill="#111" stroke="#111" stroke-width="0.22" style="font-family:'Liberation Serif',serif;font-weight:bold;">100</text>
<line x1="401.8" y1="89.3" x2="400.4" y2="89.3" stroke="#2b2b2b" stroke-width="0.9" />
<line x1="401.8" y1="80.2" x2="399.4" y2="80.2" stroke="#2b2b2b" stroke-width="0.9" />
<text x="399" y="82.6" font-size="6.6" text-anchor="end" fill="#111" stroke="#111" stroke-width="0.22" style="font-family:'Liberation Serif',serif;font-weight:bold;">200</text>
<line x1="401.8" y1="71.1" x2="400.4" y2="71.1" stroke="#2b2b2b" stroke-width="0.9" />
<line x1="401.8" y1="62" x2="399.4" y2="62" stroke="#2b2b2b" stroke-width="0.9" />
<text x="399" y="64.4" font-size="6.6" text-anchor="end" fill="#111" stroke="#111" stroke-width="0.22" style="font-family:'Liberation Serif',serif;font-weight:bold;">300</text>
<line x1="401.8" y1="52.9" x2="400.4" y2="52.9" stroke="#2b2b2b" stroke-width="0.9" />
<line x1="401.8" y1="43.8" x2="399.4" y2="43.8" stroke="#2b2b2b" stroke-width="0.9" />
<text x="399" y="46.2" font-size="6.6" text-anchor="end" fill="#111" stroke="#111" stroke-width="0.22" style="font-family:'Liberation Serif',serif;font-weight:bold;">400</text>
<line x1="401.8" y1="34.7" x2="400.4" y2="34.7" stroke="#2b2b2b" stroke-width="0.9" />
<line x1="401.8" y1="25.6" x2="399.4" y2="25.6" stroke="#2b2b2b" stroke-width="0.9" />
<text x="399" y="28" font-size="6.6" text-anchor="end" fill="#111" stroke="#111" stroke-width="0.22" style="font-family:'Liberation Serif',serif;font-weight:bold;">500</text>
<text x="472.3" y="134.6" font-size="9" text-anchor="middle" fill="#111" stroke="#111" stroke-width="0.22" style="font-family:'Liberation Serif',serif;font-weight:bold;">Current density(A/g)</text>
<text x="0" y="0" font-size="9" text-anchor="middle" fill="#111" stroke="#111" stroke-width="0.22" style="font-family:'Liberation Serif',serif;font-weight:bold;" transform="translate(385 67.5) rotate(-90)">Specific capacity (mAh/g)</text>
<path d="M409.12,51.08 L409.24,62 L409.48,72.92 L410.2,89.3 L411.4,98.4 L413.8,105.32 L421,109.32 L433,112.23" stroke="#3cb44b" stroke-width="1" fill="none" />
<path d="M407.97,51.08 L410.27,49.93 L410.27,52.23 Z" fill="#3cb44b"/>
<path d="M408.09,62 L410.39,60.85 L410.39,63.15 Z" fill="#3cb44b"/>
<path d="M408.33,72.92 L410.63,71.77 L410.63,74.07 Z" fill="#3cb44b"/>
<path d="M409.05,89.3 L411.35,88.15 L411.35,90.45 Z" fill="#3cb44b"/>
<path d="M410.25,98.4 L412.55,97.25 L412.55,99.55 Z" fill="#3cb44b"/>
<path d="M412.65,105.32 L414.95,104.17 L414.95,106.47 Z" fill="#3cb44b"/>
<path d="M419.85,109.32 L422.15,108.17 L422.15,110.47 Z" fill="#3cb44b"/>
<path d="M431.85,112.23 L434.15,111.08 L434.15,113.38 Z" fill="#3cb44b"/>
<path d="M409.24,70.19 L409.48,71.46 L410.2,73.28 L411.4,75.65 L413.8,79.29 L416.2,82.93" stroke="#4a55b5" stroke-width="1" fill="none" />
<path d="M410.39,70.19 L408.09,69.04 L408.09,71.34 Z" fill="#4a55b5"/>
<path d="M410.63,71.46 L408.33,70.31 L408.33,72.61 Z" fill="#4a55b5"/>
<path d="M411.35,73.28 L409.05,72.13 L409.05,74.43 Z" fill="#4a55b5"/>
<path d="M412.55,75.65 L410.25,74.5 L410.25,76.8 Z" fill="#4a55b5"/>
<path d="M414.95,79.29 L412.65,78.14 L412.65,80.44 Z" fill="#4a55b5"/>
<path d="M417.35,82.93 L415.05,81.78 L415.05,84.08 Z" fill="#4a55b5"/>
<path d="M409.12,70.19 L409.24,73.83 L409.48,77.47 L410.2,85.66 L411.4,94.76 L413.8,102.04" stroke="#333333" stroke-width="1" fill="none" />
<path d="M407.97,70.19 L410.27,69.04 L410.27,71.34 Z" fill="#333333"/>
<path d="M408.09,73.83 L410.39,72.68 L410.39,74.98 Z" fill="#333333"/>
<path d="M408.33,77.47 L410.63,76.32 L410.63,78.62 Z" fill="#333333"/>
<path d="M409.05,85.66 L411.35,84.51 L411.35,86.81 Z" fill="#333333"/>
<path d="M410.25,94.76 L412.55,93.61 L412.55,95.91 Z" fill="#333333"/>
<path d="M412.65,102.04 L414.95,100.89 L414.95,103.19 Z" fill="#333333"/>
<path d="M409.24,63.82 L410.2,67.1 L411.4,69.64 L413.8,72.56 L421,77.65 L433,84.2" stroke="#bdbdbd" stroke-width="1" fill="none" />
<circle cx="409.24" cy="63.82" r="1.15" fill="#fff" stroke="#bdbdbd" stroke-width="0.6"/>
<circle cx="410.2" cy="67.1" r="1.15" fill="#fff" stroke="#bdbdbd" stroke-width="0.6"/>
<circle cx="411.4" cy="69.64" r="1.15" fill="#fff" stroke="#bdbdbd" stroke-width="0.6"/>
<circle cx="413.8" cy="72.56" r="1.15" fill="#fff" stroke="#bdbdbd" stroke-width="0.6"/>
<circle cx="421" cy="77.65" r="1.15" fill="#fff" stroke="#bdbdbd" stroke-width="0.6"/>
<circle cx="433" cy="84.2" r="1.15" fill="#fff" stroke="#bdbdbd" stroke-width="0.6"/>
<path d="M409.12,79.29 L409.24,83.84 L409.48,87.48 L410.2,91.12 L411.4,96.58 L413.8,102.04" stroke="#5b9bd5" stroke-width="1" fill="none" />
<path d="M410.27,79.29 L407.97,78.14 L407.97,80.44 Z" fill="#5b9bd5"/>
<path d="M410.39,83.84 L408.09,82.69 L408.09,84.99 Z" fill="#5b9bd5"/>
<path d="M410.63,87.48 L408.33,86.33 L408.33,88.63 Z" fill="#5b9bd5"/>
<path d="M411.35,91.12 L409.05,89.97 L409.05,92.27 Z" fill="#5b9bd5"/>
<path d="M412.55,96.58 L410.25,95.43 L410.25,97.73 Z" fill="#5b9bd5"/>
<path d="M414.95,102.04 L412.65,100.89 L412.65,103.19 Z" fill="#5b9bd5"/>
<path d="M409.24,36.52 L409.48,40.16 L410.2,46.53 L411.4,51.99 L413.8,56.54 L423.4,70.92 L428.2,74.74 L445,82.38 L457,87.48" stroke="#9a7fd1" stroke-width="1" fill="none" />
<path d="M409.24,37.67 L408.09,35.37 L410.39,35.37 Z" fill="#9a7fd1"/>
<path d="M409.48,41.31 L408.33,39.01 L410.63,39.01 Z" fill="#9a7fd1"/>
<path d="M410.2,47.68 L409.05,45.38 L411.35,45.38 Z" fill="#9a7fd1"/>
<path d="M411.4,53.14 L410.25,50.84 L412.55,50.84 Z" fill="#9a7fd1"/>
<path d="M413.8,57.69 L412.65,55.39 L414.95,55.39 Z" fill="#9a7fd1"/>
<path d="M423.4,72.07 L422.25,69.77 L424.55,69.77 Z" fill="#9a7fd1"/>
<path d="M428.2,75.89 L427.05,73.59 L429.35,73.59 Z" fill="#9a7fd1"/>
<path d="M445,83.53 L443.85,81.23 L446.15,81.23 Z" fill="#9a7fd1"/>
<path d="M457,88.63 L455.85,86.33 L458.15,86.33 Z" fill="#9a7fd1"/>
<path d="M409.24,58.72 L409.96,59.27 L411.4,61.09 L413.8,62.91 L421,66.37 L433,76.74" stroke="#ef7f2a" stroke-width="1" fill="none" />
<circle cx="409.24" cy="58.72" r="1.15" fill="#fff" stroke="#ef7f2a" stroke-width="0.6"/>
<circle cx="409.96" cy="59.27" r="1.15" fill="#fff" stroke="#ef7f2a" stroke-width="0.6"/>
<circle cx="411.4" cy="61.09" r="1.15" fill="#fff" stroke="#ef7f2a" stroke-width="0.6"/>
<circle cx="413.8" cy="62.91" r="1.15" fill="#fff" stroke="#ef7f2a" stroke-width="0.6"/>
<circle cx="421" cy="66.37" r="1.15" fill="#fff" stroke="#ef7f2a" stroke-width="0.6"/>
<circle cx="433" cy="76.74" r="1.15" fill="#fff" stroke="#ef7f2a" stroke-width="0.6"/>
<path d="M409.12,74.38 L409.24,76.2 L410.2,79.29 L411.4,82.93 L413.8,86.57 L421,92.58 L428.2,96.76" stroke="#e04fb0" stroke-width="1" fill="none" />
<path d="M407.97,74.38 L410.27,73.23 L410.27,75.53 Z" fill="#e04fb0"/>
<path d="M408.09,76.2 L410.39,75.05 L410.39,77.35 Z" fill="#e04fb0"/>
<path d="M409.05,79.29 L411.35,78.14 L411.35,80.44 Z" fill="#e04fb0"/>
<path d="M410.25,82.93 L412.55,81.78 L412.55,84.08 Z" fill="#e04fb0"/>
<path d="M412.65,86.57 L414.95,85.42 L414.95,87.72 Z" fill="#e04fb0"/>
<path d="M419.85,92.58 L422.15,91.43 L422.15,93.73 Z" fill="#e04fb0"/>
<path d="M427.05,96.76 L429.35,95.61 L429.35,97.91 Z" fill="#e04fb0"/>
<path d="M409.12,96.58 L409.24,98.4 L410.2,103.5 L411.4,108.41 L413.8,112.6" stroke="#d9ab6a" stroke-width="1" fill="none" />
<circle cx="409.12" cy="96.58" r="1.15" fill="#fff" stroke="#d9ab6a" stroke-width="0.6"/>
<circle cx="409.24" cy="98.4" r="1.15" fill="#fff" stroke="#d9ab6a" stroke-width="0.6"/>
<circle cx="410.2" cy="103.5" r="1.15" fill="#fff" stroke="#d9ab6a" stroke-width="0.6"/>
<circle cx="411.4" cy="108.41" r="1.15" fill="#fff" stroke="#d9ab6a" stroke-width="0.6"/>
<circle cx="413.8" cy="112.6" r="1.15" fill="#fff" stroke="#d9ab6a" stroke-width="0.6"/>
<path d="M409.12,66.55 L409.24,67.82 L410.2,71.1 L411.4,74.74 L413.8,80.2 L421,89.3 L433,96.76" stroke="#2ca05a" stroke-width="1" fill="none" />
<path d="M410.27,66.55 L407.97,65.4 L407.97,67.7 Z" fill="#2ca05a"/>
<path d="M410.39,67.82 L408.09,66.67 L408.09,68.97 Z" fill="#2ca05a"/>
<path d="M411.35,71.1 L409.05,69.95 L409.05,72.25 Z" fill="#2ca05a"/>
<path d="M412.55,74.74 L410.25,73.59 L410.25,75.89 Z" fill="#2ca05a"/>
<path d="M414.95,80.2 L412.65,79.05 L412.65,81.35 Z" fill="#2ca05a"/>
<path d="M422.15,89.3 L419.85,88.15 L419.85,90.45 Z" fill="#2ca05a"/>
<path d="M434.15,96.76 L431.85,95.61 L431.85,97.91 Z" fill="#2ca05a"/>
<path d="M409.12,83.84 L409.48,86.57 L410.2,89.3 L411.4,92.03 L413.8,93.85 L421,96.76 L433,98.76 L457,98.76" stroke="#3f6fb5" stroke-width="1" fill="none" />
<path d="M409.12,82.69 L407.97,84.99 L410.27,84.99 Z" fill="#3f6fb5"/>
<path d="M409.48,85.42 L408.33,87.72 L410.63,87.72 Z" fill="#3f6fb5"/>
<path d="M410.2,88.15 L409.05,90.45 L411.35,90.45 Z" fill="#3f6fb5"/>
<path d="M411.4,90.88 L410.25,93.18 L412.55,93.18 Z" fill="#3f6fb5"/>
<path d="M413.8,92.7 L412.65,95 L414.95,95 Z" fill="#3f6fb5"/>
<path d="M421,95.61 L419.85,97.91 L422.15,97.91 Z" fill="#3f6fb5"/>
<path d="M433,97.61 L431.85,99.91 L434.15,99.91 Z" fill="#3f6fb5"/>
<path d="M457,97.61 L455.85,99.91 L458.15,99.91 Z" fill="#3f6fb5"/>
<path d="M409.12,25.6 L409.24,31.06 L409.48,32.88 L410.2,45.26 L411.4,48.17 L413.8,52.9 L421,59.82 L433,68.92 L457,74.74 L529,98.4" stroke="#e8282b" stroke-width="1.1" fill="none" />
<circle cx="409.12" cy="25.6" r="1.9" fill="#e8282b"/>
<circle cx="409.24" cy="31.06" r="1.9" fill="#e8282b"/>
<circle cx="409.48" cy="32.88" r="1.9" fill="#e8282b"/>
<circle cx="410.2" cy="45.26" r="1.9" fill="#e8282b"/>
<circle cx="411.4" cy="48.17" r="1.9" fill="#e8282b"/>
<circle cx="413.8" cy="52.9" r="1.9" fill="#e8282b"/>
<circle cx="421" cy="59.82" r="1.9" fill="#e8282b"/>
<circle cx="433" cy="68.92" r="1.9" fill="#e8282b"/>
<circle cx="457" cy="74.74" r="1.9" fill="#e8282b"/>
<circle cx="529" cy="98.4" r="1.9" fill="#e8282b"/>
<line x1="468.8" y1="18.1" x2="481.8" y2="18.1" stroke="#3cb44b" stroke-width="1" />
<path d="M474.2,18.1 L476.4,17 L476.4,19.2 Z" fill="#3cb44b"/>
<text x="0" y="0" font-size="6.6" text-anchor="start" fill="#111" stroke="#111" stroke-width="0.22" style="font-family:'Liberation Serif',serif;font-weight:bold;" transform="translate(483.1 20.5) scale(0.9,1)">Ref 15</text>
<line x1="468.8" y1="25.7" x2="481.8" y2="25.7" stroke="#4a55b5" stroke-width="1" />
<path d="M476.4,25.7 L474.2,24.6 L474.2,26.8 Z" fill="#4a55b5"/>
<text x="0" y="0" font-size="6.6" text-anchor="start" fill="#111" stroke="#111" stroke-width="0.22" style="font-family:'Liberation Serif',serif;font-weight:bold;" transform="translate(483.1 28.1) scale(0.9,1)">Ref 23</text>
<line x1="468.8" y1="33.3" x2="481.8" y2="33.3" stroke="#333333" stroke-width="1" />
<path d="M474.2,33.3 L476.4,32.2 L476.4,34.4 Z" fill="#333333"/>
<text x="0" y="0" font-size="6.6" text-anchor="start" fill="#111" stroke="#111" stroke-width="0.22" style="font-family:'Liberation Serif',serif;font-weight:bold;" transform="translate(483.1 35.7) scale(0.9,1)">Ref 37</text>
<line x1="468.8" y1="40.9" x2="481.8" y2="40.9" stroke="#bdbdbd" stroke-width="1" />
<circle cx="475.3" cy="40.9" r="1.1" fill="#fff" stroke="#bdbdbd" stroke-width="0.6"/>
<text x="0" y="0" font-size="6.6" text-anchor="start" fill="#111" stroke="#111" stroke-width="0.22" style="font-family:'Liberation Serif',serif;font-weight:bold;" transform="translate(483.1 43.3) scale(0.9,1)">Ref 44</text>
<line x1="468.8" y1="48.5" x2="481.8" y2="48.5" stroke="#5b9bd5" stroke-width="1" />
<path d="M476.4,48.5 L474.2,47.4 L474.2,49.6 Z" fill="#5b9bd5"/>
<text x="0" y="0" font-size="6.6" text-anchor="start" fill="#111" stroke="#111" stroke-width="0.22" style="font-family:'Liberation Serif',serif;font-weight:bold;" transform="translate(483.1 50.9) scale(0.9,1)">Ref 45</text>
<line x1="468.8" y1="56.1" x2="481.8" y2="56.1" stroke="#9a7fd1" stroke-width="1" />
<path d="M475.3,57.2 L474.2,55 L476.4,55 Z" fill="#9a7fd1"/>
<text x="0" y="0" font-size="6.6" text-anchor="start" fill="#111" stroke="#111" stroke-width="0.22" style="font-family:'Liberation Serif',serif;font-weight:bold;" transform="translate(483.1 58.5) scale(0.9,1)">Ref 47</text>
<line x1="500.8" y1="18.1" x2="513.8" y2="18.1" stroke="#ef7f2a" stroke-width="1" />
<circle cx="507.3" cy="18.1" r="1.1" fill="#fff" stroke="#ef7f2a" stroke-width="0.6"/>
<text x="0" y="0" font-size="6.6" text-anchor="start" fill="#111" stroke="#111" stroke-width="0.22" style="font-family:'Liberation Serif',serif;font-weight:bold;" transform="translate(515.1 20.5) scale(0.9,1)">Ref 48</text>
<line x1="500.8" y1="25.7" x2="513.8" y2="25.7" stroke="#e04fb0" stroke-width="1" />
<path d="M506.2,25.7 L508.4,24.6 L508.4,26.8 Z" fill="#e04fb0"/>
<text x="0" y="0" font-size="6.6" text-anchor="start" fill="#111" stroke="#111" stroke-width="0.22" style="font-family:'Liberation Serif',serif;font-weight:bold;" transform="translate(515.1 28.1) scale(0.9,1)">Ref 49</text>
<line x1="500.8" y1="33.3" x2="513.8" y2="33.3" stroke="#d9ab6a" stroke-width="1" />
<circle cx="507.3" cy="33.3" r="1.1" fill="#fff" stroke="#d9ab6a" stroke-width="0.6"/>
<text x="0" y="0" font-size="6.6" text-anchor="start" fill="#111" stroke="#111" stroke-width="0.22" style="font-family:'Liberation Serif',serif;font-weight:bold;" transform="translate(515.1 35.7) scale(0.9,1)">Ref 50</text>
<line x1="500.8" y1="40.9" x2="513.8" y2="40.9" stroke="#2ca05a" stroke-width="1" />
<path d="M508.4,40.9 L506.2,39.8 L506.2,42 Z" fill="#2ca05a"/>
<text x="0" y="0" font-size="6.6" text-anchor="start" fill="#111" stroke="#111" stroke-width="0.22" style="font-family:'Liberation Serif',serif;font-weight:bold;" transform="translate(515.1 43.3) scale(0.9,1)">Ref 51</text>
<line x1="500.8" y1="48.5" x2="513.8" y2="48.5" stroke="#3f6fb5" stroke-width="1" />
<path d="M507.3,47.4 L506.2,49.6 L508.4,49.6 Z" fill="#3f6fb5"/>
<text x="0" y="0" font-size="6.6" text-anchor="start" fill="#111" stroke="#111" stroke-width="0.22" style="font-family:'Liberation Serif',serif;font-weight:bold;" transform="translate(515.1 50.9) scale(0.9,1)">Ref 52</text>
<line x1="500.8" y1="56.1" x2="513.8" y2="56.1" stroke="#e8282b" stroke-width="1" />
<circle cx="507.3" cy="56.1" r="1.7" fill="#e8282b"/>
<text x="0" y="0" font-size="6.6" text-anchor="start" fill="#111" stroke="#111" stroke-width="0.22" style="font-family:'Liberation Serif',serif;font-weight:bold;" transform="translate(515.1 58.5) scale(0.9,1)">This work</text>
<rect x="401.8" y="14.2" width="141.3" height="103" fill="none" stroke="#2b2b2b" stroke-width="1.1"/>
<text x="12.6" y="155.2" font-size="18.6" text-anchor="start" fill="#111" stroke="#111" stroke-width="0.22" style="font-family:'Liberation Serif',serif;font-weight:bold;">d</text>
<line x1="34.7" y1="258.6" x2="34.7" y2="261" stroke="#2b2b2b" stroke-width="0.9" />
<line x1="61.25" y1="258.6" x2="61.25" y2="260" stroke="#2b2b2b" stroke-width="0.9" />
<line x1="87.8" y1="258.6" x2="87.8" y2="261" stroke="#2b2b2b" stroke-width="0.9" />
<text x="87.8" y="267.8" font-size="6.6" text-anchor="middle" fill="#111" stroke="#111" stroke-width="0.22" style="font-family:'Liberation Serif',serif;font-weight:bold;">500</text>
<line x1="114.35" y1="258.6" x2="114.35" y2="260" stroke="#2b2b2b" stroke-width="0.9" />
<line x1="140.9" y1="258.6" x2="140.9" y2="261" stroke="#2b2b2b" stroke-width="0.9" />
<text x="140.9" y="267.8" font-size="6.6" text-anchor="middle" fill="#111" stroke="#111" stroke-width="0.22" style="font-family:'Liberation Serif',serif;font-weight:bold;">1000</text>
<line x1="167.45" y1="258.6" x2="167.45" y2="260" stroke="#2b2b2b" stroke-width="0.9" />
<line x1="194" y1="258.6" x2="194" y2="261" stroke="#2b2b2b" stroke-width="0.9" />
<text x="194" y="267.8" font-size="6.6" text-anchor="middle" fill="#111" stroke="#111" stroke-width="0.22" style="font-family:'Liberation Serif',serif;font-weight:bold;">1500</text>
<line x1="220.55" y1="258.6" x2="220.55" y2="260" stroke="#2b2b2b" stroke-width="0.9" />
<line x1="247.1" y1="258.6" x2="247.1" y2="261" stroke="#2b2b2b" stroke-width="0.9" />
<text x="247.1" y="267.8" font-size="6.6" text-anchor="middle" fill="#111" stroke="#111" stroke-width="0.22" style="font-family:'Liberation Serif',serif;font-weight:bold;">2000</text>
<line x1="273.65" y1="258.6" x2="273.65" y2="260" stroke="#2b2b2b" stroke-width="0.9" />
<line x1="300.2" y1="258.6" x2="300.2" y2="261" stroke="#2b2b2b" stroke-width="0.9" />
<text x="300.2" y="267.8" font-size="6.6" text-anchor="middle" fill="#111" stroke="#111" stroke-width="0.22" style="font-family:'Liberation Serif',serif;font-weight:bold;">2500</text>
<line x1="326.75" y1="258.6" x2="326.75" y2="260" stroke="#2b2b2b" stroke-width="0.9" />
<line x1="353.3" y1="258.6" x2="353.3" y2="261" stroke="#2b2b2b" stroke-width="0.9" />
<text x="353.3" y="267.8" font-size="6.6" text-anchor="middle" fill="#111" stroke="#111" stroke-width="0.22" style="font-family:'Liberation Serif',serif;font-weight:bold;">3000</text>
<line x1="34.2" y1="258.6" x2="31.8" y2="258.6" stroke="#2b2b2b" stroke-width="0.9" />
<text x="31.4" y="261" font-size="6.6" text-anchor="end" fill="#111" stroke="#111" stroke-width="0.22" style="font-family:'Liberation Serif',serif;font-weight:bold;">0</text>
<line x1="34.2" y1="251.1" x2="32.8" y2="251.1" stroke="#2b2b2b" stroke-width="0.9" />
<line x1="34.2" y1="243.6" x2="31.8" y2="243.6" stroke="#2b2b2b" stroke-width="0.9" />
<text x="31.4" y="246" font-size="6.6" text-anchor="end" fill="#111" stroke="#111" stroke-width="0.22" style="font-family:'Liberation Serif',serif;font-weight:bold;">100</text>
<line x1="34.2" y1="236.1" x2="32.8" y2="236.1" stroke="#2b2b2b" stroke-width="0.9" />
<line x1="34.2" y1="228.6" x2="31.8" y2="228.6" stroke="#2b2b2b" stroke-width="0.9" />
<text x="31.4" y="231" font-size="6.6" text-anchor="end" fill="#111" stroke="#111" stroke-width="0.22" style="font-family:'Liberation Serif',serif;font-weight:bold;">200</text>
<line x1="34.2" y1="221.1" x2="32.8" y2="221.1" stroke="#2b2b2b" stroke-width="0.9" />
<line x1="34.2" y1="213.6" x2="31.8" y2="213.6" stroke="#2b2b2b" stroke-width="0.9" />
<text x="31.4" y="216" font-size="6.6" text-anchor="end" fill="#111" stroke="#111" stroke-width="0.22" style="font-family:'Liberation Serif',serif;font-weight:bold;">300</text>
<line x1="34.2" y1="206.1" x2="32.8" y2="206.1" stroke="#2b2b2b" stroke-width="0.9" />
<line x1="34.2" y1="198.6" x2="31.8" y2="198.6" stroke="#2b2b2b" stroke-width="0.9" />
<text x="31.4" y="201" font-size="6.6" text-anchor="end" fill="#111" stroke="#111" stroke-width="0.22" style="font-family:'Liberation Serif',serif;font-weight:bold;">400</text>
<line x1="34.2" y1="191.1" x2="32.8" y2="191.1" stroke="#2b2b2b" stroke-width="0.9" />
<line x1="34.2" y1="183.6" x2="31.8" y2="183.6" stroke="#2b2b2b" stroke-width="0.9" />
<text x="31.4" y="186" font-size="6.6" text-anchor="end" fill="#111" stroke="#111" stroke-width="0.22" style="font-family:'Liberation Serif',serif;font-weight:bold;">500</text>
<line x1="34.2" y1="176.1" x2="32.8" y2="176.1" stroke="#2b2b2b" stroke-width="0.9" />
<line x1="34.2" y1="168.6" x2="31.8" y2="168.6" stroke="#2b2b2b" stroke-width="0.9" />
<text x="31.4" y="171" font-size="6.6" text-anchor="end" fill="#111" stroke="#111" stroke-width="0.22" style="font-family:'Liberation Serif',serif;font-weight:bold;">600</text>
<line x1="354.3" y1="256.8" x2="351.9" y2="256.8" stroke="#2b2b2b" stroke-width="0.9" />
<text x="357.5" y="259.2" font-size="6.6" text-anchor="start" fill="#111" stroke="#111" stroke-width="0.22" style="font-family:'Liberation Serif',serif;font-weight:bold;">0</text>
<line x1="354.3" y1="248.3" x2="352.9" y2="248.3" stroke="#2b2b2b" stroke-width="0.9" />
<line x1="354.3" y1="239.8" x2="351.9" y2="239.8" stroke="#2b2b2b" stroke-width="0.9" />
<text x="357.5" y="242.2" font-size="6.6" text-anchor="start" fill="#111" stroke="#111" stroke-width="0.22" style="font-family:'Liberation Serif',serif;font-weight:bold;">20</text>
<line x1="354.3" y1="231.3" x2="352.9" y2="231.3" stroke="#2b2b2b" stroke-width="0.9" />
<line x1="354.3" y1="222.8" x2="351.9" y2="222.8" stroke="#2b2b2b" stroke-width="0.9" />
<text x="357.5" y="225.2" font-size="6.6" text-anchor="start" fill="#111" stroke="#111" stroke-width="0.22" style="font-family:'Liberation Serif',serif;font-weight:bold;">40</text>
<line x1="354.3" y1="214.3" x2="352.9" y2="214.3" stroke="#2b2b2b" stroke-width="0.9" />
<line x1="354.3" y1="205.8" x2="351.9" y2="205.8" stroke="#2b2b2b" stroke-width="0.9" />
<text x="357.5" y="208.2" font-size="6.6" text-anchor="start" fill="#111" stroke="#111" stroke-width="0.22" style="font-family:'Liberation Serif',serif;font-weight:bold;">60</text>
<line x1="354.3" y1="197.3" x2="352.9" y2="197.3" stroke="#2b2b2b" stroke-width="0.9" />
<line x1="354.3" y1="188.8" x2="351.9" y2="188.8" stroke="#2b2b2b" stroke-width="0.9" />
<text x="357.5" y="191.2" font-size="6.6" text-anchor="start" fill="#111" stroke="#111" stroke-width="0.22" style="font-family:'Liberation Serif',serif;font-weight:bold;">80</text>
<line x1="354.3" y1="180.3" x2="352.9" y2="180.3" stroke="#2b2b2b" stroke-width="0.9" />
<line x1="354.3" y1="171.8" x2="351.9" y2="171.8" stroke="#2b2b2b" stroke-width="0.9" />
<text x="357.5" y="174.2" font-size="6.6" text-anchor="start" fill="#111" stroke="#111" stroke-width="0.22" style="font-family:'Liberation Serif',serif;font-weight:bold;">100</text>
<text x="194.5" y="276.5" font-size="8.75" text-anchor="middle" fill="#111" stroke="#111" stroke-width="0.22" style="font-family:'Liberation Serif',serif;font-weight:bold;">Cycle number</text>
<text x="0" y="0" font-size="9" text-anchor="middle" fill="#111" stroke="#111" stroke-width="0.22" style="font-family:'Liberation Serif',serif;font-weight:bold;" transform="translate(18.4 206.7) rotate(-90)">Specific capacity (mAh/g)</text>
<path d="M34.81,187.1 L35.12,176.9 L35.55,173.08 L36.29,171.8 L36.82,171.59 L38.42,171.47 L40.02,171.82 L41.62,171.42 L43.22,171.74 L44.82,171.62 L46.42,171.41 L48.02,171.72 L49.62,171.39 L51.22,171.67 L52.82,171.41 L54.42,171.43 L56.02,171.66 L57.62,171.94 L59.22,171.45 L60.82,171.52 L62.42,171.8 L64.02,172.03 L65.62,171.77 L67.22,171.64 L68.82,172.05 L70.42,171.4 L72.02,171.97 L73.62,171.57 L75.22,171.47 L76.82,171.45 L78.42,171.58 L80.02,171.94 L81.62,171.49 L83.22,171.77 L84.82,171.81 L86.42,171.63 L88.02,171.75 L89.62,171.41 L91.22,171.41 L92.82,171.51 L94.42,171.84 L96.02,171.66 L97.62,171.58 L99.22,171.77 L100.82,171.68 L102.42,171.57 L104.02,171.92 L105.62,171.85 L107.22,171.54 L108.82,171.77 L110.42,171.73 L112.02,171.98 L113.62,171.88 L115.22,171.57 L116.82,172.05 L118.42,171.45 L120.02,171.66 L121.62,171.89 L123.22,171.47 L124.82,171.71 L126.42,171.39 L128.02,171.83 L129.62,171.9 L131.22,171.77 L132.82,171.98 L134.42,171.58 L136.02,171.85 L137.62,171.78 L139.22,171.77 L140.82,171.68 L142.42,171.95 L144.02,172.03 L145.62,171.7 L147.22,171.83 L148.82,171.41 L150.42,171.86 L152.02,171.82 L153.62,172.06 L155.22,171.94 L156.82,171.56 L158.42,171.64 L160.02,171.83 L161.62,171.38 L163.22,171.69 L164.82,171.48 L166.42,171.45 L168.02,171.41 L169.62,171.9 L171.22,171.46 L172.82,171.54 L174.42,171.64 L176.02,171.97 L177.62,171.42 L179.22,171.68 L180.82,171.75 L182.42,171.98 L184.02,171.94 L185.62,171.97 L187.22,171.56 L188.82,171.66 L190.42,171.62 L192.02,171.98 L193.62,172.04 L195.22,171.47 L196.82,171.49 L198.42,171.53 L200.02,171.53 L201.62,171.7 L203.22,171.78 L204.82,171.55 L206.42,171.37 L208.02,171.66 L209.62,171.62 L211.22,171.76 L212.82,172.03 L214.42,171.85 L216.02,171.73 L217.62,171.8 L219.22,171.84 L220.82,171.4 L222.42,171.99 L224.02,171.91 L225.62,171.98 L227.22,171.92 L228.82,171.64 L230.42,171.64 L232.02,171.44 L233.62,171.81 L235.22,171.41 L236.82,171.41 L238.42,171.51 L240.02,171.48 L241.62,171.6 L243.22,171.4 L244.82,171.37 L246.42,171.47 L248.02,171.44 L249.62,171.62 L251.22,171.38 L252.82,171.98 L254.42,171.79 L256.02,171.47 L257.62,171.54 L259.22,171.61 L260.82,171.62 L262.42,171.45 L264.02,171.96 L265.62,172.06 L267.22,171.69 L268.82,171.7 L270.42,171.43 L272.02,171.44 L273.62,171.6 L275.22,171.55 L276.82,171.95 L278.42,171.48 L280.02,171.38 L281.62,172.03 L283.22,171.73 L284.82,171.47 L286.42,171.75 L288.02,171.38 L289.62,171.73 L291.22,172.05 L292.82,171.97 L294.42,171.85 L296.02,171.55 L297.62,171.62 L299.22,171.48 L300.82,171.91 L302.42,171.74 L304.02,171.91 L305.62,171.6 L307.22,171.52 L308.82,171.93 L310.42,172.05 L312.02,171.96 L313.62,171.93 L315.22,171.94 L316.82,171.88 L318.42,171.52 L320.02,171.73 L321.62,171.61 L323.22,171.39 L324.82,171.38 L326.42,171.56 L328.02,171.55 L329.62,171.85 L331.22,172.03 L332.82,171.68 L334.42,172.02 L336.02,172.06 L337.62,172.03 L339.22,171.62 L340.82,171.52 L342.42,171.52 L344.02,171.5 L345.62,171.51 L347.22,171.8 L348.82,172 L350.42,171.95 L352.02,171.7 L353.62,171.82" stroke="#ef8a3c" stroke-width="2.7" fill="none" stroke-linejoin="round"/>
<circle cx="34.81" cy="199" r="1.1" fill="#ef8a3c"/>
<circle cx="34.91" cy="193.9" r="1.1" fill="#ef8a3c"/>
<circle cx="35.02" cy="182.85" r="1.1" fill="#ef8a3c"/>
<circle cx="35.23" cy="178.6" r="1.1" fill="#ef8a3c"/>
<path d="M35.4,204.08 L36.7,206.69 L38,208.07 L39.3,207.85 L40.6,208.08 L41.9,208.19 L43.2,208.6 L44.5,209.04 L45.8,208.38 L47.1,209.01 L48.4,208.52 L49.7,208.4 L51,209.16 L52.3,208.02 L53.6,207.36 L54.9,207.63 L56.2,210.55 L57.5,210.6 L58.8,210.57 L60.1,209.66 L61.4,209.78 L62.7,210.57 L64,209.76 L65.3,209.57 L66.6,209.96 L67.9,210.33 L69.2,208.59 L70.5,209.09 L71.8,209.23 L73.1,208.83 L74.4,209.22 L75.7,209.37 L77,208.88 L78.3,209.48 L79.6,208.95 L80.9,209.01 L82.2,209.75 L83.5,209.7 L84.8,209.65 L86.1,209.71 L87.4,205.13 L88.7,206.01 L90,206.31 L91.3,207.14 L92.6,205.91 L93.9,206.58 L95.2,206.45 L96.5,206.3 L97.8,205.91 L99.1,206.5 L100.4,205.9 L101.7,206.4 L103,206.36 L104.3,206.37 L105.6,206.98 L106.9,206.47 L108.2,206.78 L109.5,207 L110.8,206.04 L112.1,206.79 L113.4,206.43 L114.7,206.13 L116,206.33 L117.3,205.11 L118.6,204.88 L119.9,204.83 L121.2,206.21 L122.5,207.02 L123.8,206.48 L125.1,206.85 L126.4,206.82 L127.7,206.22 L129,206.54 L130.3,207.53 L131.6,207.29 L132.9,207.11 L134.2,207.67 L135.5,207.46 L136.8,207.14 L138.1,207.14 L139.4,206.92 L140.7,207.21 L142,207.11 L143.3,207.18 L144.6,206.62 L145.9,206.91 L147.2,206.7 L148.5,206.62 L149.8,207.44 L151.1,207.08 L152.4,206.62 L153.7,206.74 L155,207.59 L156.3,207.6 L157.6,205.72 L158.9,206.16 L160.2,205.96 L161.5,206.16 L162.8,206.2 L164.1,206.06 L165.4,205.92 L166.7,206.81 L168,206.14 L169.3,206.21 L170.6,206.83 L171.9,205.94 L173.2,205.84 L174.5,206.74 L175.8,205.86 L177.1,206.52 L178.4,206.42 L179.7,205.81 L181,206 L182.3,206.81 L183.6,206.48 L184.9,206.38 L186.2,206.59 L187.5,206.77 L188.8,206.62 L190.1,206.13 L191.4,206.98 L192.7,206.34 L194,206.47 L195.3,206.98 L196.6,206.6 L197.9,206.25 L199.2,206.39 L200.5,207.52 L201.8,206.42 L203.1,206.65 L204.4,206.43 L205.7,207.47 L207,207.28 L208.3,207.55 L209.6,206.67 L210.9,207.28 L212.2,207.44 L213.5,207.09 L214.8,206.51 L216.1,206.62 L217.4,207.29 L218.7,207.42 L220,206.5 L221.3,206.92 L222.6,206.76 L223.9,207.49 L225.2,207.53 L226.5,206.77 L227.8,207.09 L229.1,207.51 L230.4,206.47 L231.7,206.84 L233,206.64 L234.3,207.5 L235.6,206.57 L236.9,208.42 L238.2,207.46 L239.5,207.96 L240.8,208.09 L242.1,206.04 L243.4,205.59 L244.7,206.38 L246,206.54 L247.3,206.07 L248.6,206.41 L249.9,206.57 L251.2,206.51 L252.5,207.09 L253.8,206.91 L255.1,206.78 L256.4,206.78 L257.7,206.24 L259,206.8 L260.3,206.55 L261.6,206.94 L262.9,206.73 L264.2,207.13 L265.5,206.85 L266.8,207.13 L268.1,206.27 L269.4,206.49 L270.7,206.92 L272,206.58 L273.3,206.03 L274.6,207.02 L275.9,206.17 L277.2,206.63 L278.5,206.56 L279.8,206.15 L281.1,206.68 L282.4,206.54 L283.7,206.32 L285,205.97 L286.3,206.74 L287.6,206.15 L288.9,206.3 L290.2,206.39 L291.5,206.66 L292.8,206.73 L294.1,207.08 L295.4,206.99 L296.7,207.07 L298,206.26 L299.3,206.84 L300.6,207.1 L301.9,207.2 L303.2,206.29 L304.5,206.26 L305.8,206.5 L307.1,206.96 L308.4,207.01 L309.7,206.95 L311,206.75 L312.3,207.11 L313.6,206.77 L314.9,206.98 L316.2,206.15 L317.5,206.13 L318.8,206.64 L320.1,207.01 L321.4,206.14 L322.7,206.93 L324,206.87 L325.3,207.3 L326.6,206.84 L327.9,206.73 L329.2,206.7 L330.5,207.06 L331.8,206.69 L333.1,207.29 L334.4,206.98 L335.7,207.19 L337,206.82 L338.3,207.25 L339.6,207.27 L340.9,206.93 L342.2,207.02 L343.5,206.6 L344.8,206.66 L346.1,206.4 L347.4,206.51 L348.7,206.44 L350,206.25 L351.3,206.83 L352.6,206.91 L353.9,206.12" stroke="#3f7ccc" stroke-width="3" fill="none" stroke-linejoin="round"/>
<circle cx="34.6" cy="187.8" r="1.2" fill="#3f7ccc"/>
<circle cx="34.94" cy="191.85" r="1.2" fill="#3f7ccc"/>
<circle cx="34.89" cy="194.4" r="1.2" fill="#3f7ccc"/>
<circle cx="34.53" cy="198.6" r="1.2" fill="#3f7ccc"/>
<circle cx="35.01" cy="202.8" r="1.2" fill="#3f7ccc"/>
<text x="35.4" y="164.6" font-size="7" text-anchor="start" fill="#111" stroke="#111" stroke-width="0.22" style="font-family:'Liberation Serif',serif;font-weight:bold;">HCM-1300-ZBE</text>
<text x="35.4" y="188.4" font-size="7" text-anchor="start" fill="#111" stroke="#111" stroke-width="0.22" style="font-family:'Liberation Serif',serif;font-weight:bold;">0.05 A/g</text>
<text x="128.4" y="200.4" font-size="7" text-anchor="middle" fill="#111" stroke="#111" stroke-width="0.22" style="font-family:'Liberation Serif',serif;font-weight:bold;">2 A/g</text>
<text x="133.7" y="219.4" font-size="7" text-anchor="middle" fill="#111" stroke="#111" stroke-width="0.22" style="font-family:'Liberation Serif',serif;font-weight:bold;">3000th retention of 93.9%</text>
<rect x="229.3" y="163.6" width="107.6" height="78.6" fill="none" stroke="#555" stroke-width="0.8"/>
<line x1="229.3" y1="242.2" x2="229.3" y2="244" stroke="#2b2b2b" stroke-width="0.7" />
<text x="229.3" y="248.2" font-size="5.3" text-anchor="middle" fill="#111" stroke="#111" stroke-width="0.22" style="font-family:'Liberation Serif',serif;font-weight:bold;">0</text>
<line x1="237.5" y1="242.2" x2="237.5" y2="243.2" stroke="#2b2b2b" stroke-width="0.7" />
<line x1="245.7" y1="242.2" x2="245.7" y2="244" stroke="#2b2b2b" stroke-width="0.7" />
<text x="245.7" y="248.2" font-size="5.3" text-anchor="middle" fill="#111" stroke="#111" stroke-width="0.22" style="font-family:'Liberation Serif',serif;font-weight:bold;">100</text>
<line x1="253.9" y1="242.2" x2="253.9" y2="243.2" stroke="#2b2b2b" stroke-width="0.7" />
<line x1="262.1" y1="242.2" x2="262.1" y2="244" stroke="#2b2b2b" stroke-width="0.7" />
<text x="262.1" y="248.2" font-size="5.3" text-anchor="middle" fill="#111" stroke="#111" stroke-width="0.22" style="font-family:'Liberation Serif',serif;font-weight:bold;">200</text>
<line x1="270.3" y1="242.2" x2="270.3" y2="243.2" stroke="#2b2b2b" stroke-width="0.7" />
<line x1="278.5" y1="242.2" x2="278.5" y2="244" stroke="#2b2b2b" stroke-width="0.7" />
<text x="278.5" y="248.2" font-size="5.3" text-anchor="middle" fill="#111" stroke="#111" stroke-width="0.22" style="font-family:'Liberation Serif',serif;font-weight:bold;">300</text>
<line x1="286.7" y1="242.2" x2="286.7" y2="243.2" stroke="#2b2b2b" stroke-width="0.7" />
<line x1="294.9" y1="242.2" x2="294.9" y2="244" stroke="#2b2b2b" stroke-width="0.7" />
<text x="294.9" y="248.2" font-size="5.3" text-anchor="middle" fill="#111" stroke="#111" stroke-width="0.22" style="font-family:'Liberation Serif',serif;font-weight:bold;">400</text>
<line x1="303.1" y1="242.2" x2="303.1" y2="243.2" stroke="#2b2b2b" stroke-width="0.7" />
<line x1="311.3" y1="242.2" x2="311.3" y2="244" stroke="#2b2b2b" stroke-width="0.7" />
<text x="311.3" y="248.2" font-size="5.3" text-anchor="middle" fill="#111" stroke="#111" stroke-width="0.22" style="font-family:'Liberation Serif',serif;font-weight:bold;">500</text>
<line x1="319.5" y1="242.2" x2="319.5" y2="243.2" stroke="#2b2b2b" stroke-width="0.7" />
<line x1="327.7" y1="242.2" x2="327.7" y2="244" stroke="#2b2b2b" stroke-width="0.7" />
<text x="327.7" y="248.2" font-size="5.3" text-anchor="middle" fill="#111" stroke="#111" stroke-width="0.22" style="font-family:'Liberation Serif',serif;font-weight:bold;">600</text>
<line x1="335.9" y1="242.2" x2="335.9" y2="243.2" stroke="#2b2b2b" stroke-width="0.7" />
<line x1="229.3" y1="239.9" x2="227.5" y2="239.9" stroke="#2b2b2b" stroke-width="0.7" />
<text x="227.3" y="241.8" font-size="5.3" text-anchor="end" fill="#111" stroke="#111" stroke-width="0.22" style="font-family:'Liberation Serif',serif;font-weight:bold;">0.0</text>
<line x1="229.3" y1="231.28" x2="228.3" y2="231.28" stroke="#2b2b2b" stroke-width="0.7" />
<line x1="229.3" y1="222.65" x2="227.5" y2="222.65" stroke="#2b2b2b" stroke-width="0.7" />
<text x="227.3" y="224.55" font-size="5.3" text-anchor="end" fill="#111" stroke="#111" stroke-width="0.22" style="font-family:'Liberation Serif',serif;font-weight:bold;">0.5</text>
<line x1="229.3" y1="214.03" x2="228.3" y2="214.03" stroke="#2b2b2b" stroke-width="0.7" />
<line x1="229.3" y1="205.4" x2="227.5" y2="205.4" stroke="#2b2b2b" stroke-width="0.7" />
<text x="227.3" y="207.3" font-size="5.3" text-anchor="end" fill="#111" stroke="#111" stroke-width="0.22" style="font-family:'Liberation Serif',serif;font-weight:bold;">1.0</text>
<line x1="229.3" y1="196.78" x2="228.3" y2="196.78" stroke="#2b2b2b" stroke-width="0.7" />
<line x1="229.3" y1="188.15" x2="227.5" y2="188.15" stroke="#2b2b2b" stroke-width="0.7" />
<text x="227.3" y="190.05" font-size="5.3" text-anchor="end" fill="#111" stroke="#111" stroke-width="0.22" style="font-family:'Liberation Serif',serif;font-weight:bold;">1.5</text>
<line x1="229.3" y1="179.53" x2="228.3" y2="179.53" stroke="#2b2b2b" stroke-width="0.7" />
<line x1="229.3" y1="170.9" x2="227.5" y2="170.9" stroke="#2b2b2b" stroke-width="0.7" />
<text x="227.3" y="172.8" font-size="5.3" text-anchor="end" fill="#111" stroke="#111" stroke-width="0.22" style="font-family:'Liberation Serif',serif;font-weight:bold;">2.0</text>
<text x="0" y="0" font-size="7.3" text-anchor="middle" fill="#111" stroke="#111" stroke-width="0.22" style="font-family:'Liberation Serif',serif;font-weight:bold;" transform="translate(282.7 254.4) scale(0.96,1)">Capacity(mAh/g)</text>
<text x="0" y="0" font-size="7.3" text-anchor="middle" fill="#111" stroke="#111" stroke-width="0.22" style="font-family:'Liberation Serif',serif;font-weight:bold;" transform="translate(217.6 201.5) rotate(-90) scale(0.95,1)">Potential(V vs.Na<tspan dy="-2" font-size="4.6">+</tspan><tspan dy="2">/Na)</tspan></text>
<text x="278.7" y="170.8" font-size="5.8" text-anchor="middle" fill="#111" stroke="#111" stroke-width="0.22" style="font-family:'Liberation Serif',serif;font-weight:bold;">3000th</text>
<text x="297" y="170.8" font-size="5.8" text-anchor="middle" fill="#111" stroke="#111" stroke-width="0.22" style="font-family:'Liberation Serif',serif;font-weight:bold;">2 A/g</text>
<text x="320" y="170.8" font-size="5.8" text-anchor="middle" fill="#111" stroke="#111" stroke-width="0.22" style="font-family:'Liberation Serif',serif;font-weight:bold;">0.05 A/g</text>
<g fill="none" stroke-width="1.0" stroke-linecap="round">
<path d="M229.3,170.9 C229.31,173.2 229.31,180.79 229.33,184.7 C229.36,188.61 229.33,191.77 229.46,194.36 C229.6,196.95 229.55,197.7 230.12,200.23 C230.69,202.76 231.62,206.84 232.91,209.54 C234.19,212.24 235.97,214.14 237.83,216.44 C239.69,218.74 241.9,221.16 244.06,223.34 C246.22,225.53 248.32,227.83 250.78,229.55 C253.24,231.28 255.95,232.54 258.82,233.69 C261.69,234.84 264.72,235.73 268,236.45 C271.28,237.17 274.92,237.63 278.5,238 C282.08,238.38 285.11,238.46 289.49,238.69 C293.86,238.92 299.71,239.21 304.74,239.38 C309.77,239.56 317.18,239.67 319.66,239.73" stroke="#ef8a3c" stroke-width="1.3" fill="none" />
<path d="M229.3,205.4 C229.38,206.67 229.44,210.86 229.79,212.99 C230.15,215.12 230.69,216.84 231.43,218.17 C232.17,219.49 233.15,219.95 234.22,220.93 C235.29,221.9 236.52,222.94 237.83,224.03 C239.14,225.12 240.67,226.39 242.09,227.48 C243.51,228.57 244.93,229.55 246.36,230.59 C247.78,231.62 249.31,232.83 250.62,233.69 C251.93,234.55 252.31,235.13 254.23,235.76 C256.14,236.39 259.28,237.03 262.1,237.49 C264.92,237.95 267.84,238.23 271.12,238.52 C274.4,238.81 278.58,239.04 281.78,239.21 C284.98,239.38 288.89,239.5 290.31,239.56" stroke="#3f7ccc" stroke-width="1.3" fill="none" />
<path d="M229.3,204.71 C229.38,205.98 229.44,210.12 229.79,212.3 C230.15,214.49 230.69,216.38 231.43,217.82 C232.17,219.26 233.15,219.83 234.22,220.93 C235.29,222.02 236.52,223.17 237.83,224.38 C239.14,225.58 240.67,227.02 242.09,228.17 C243.51,229.32 244.93,230.24 246.36,231.28 C247.78,232.31 249.31,233.57 250.62,234.38 C251.93,235.19 252.31,235.53 254.23,236.11 C256.14,236.68 259.28,237.4 262.1,237.83 C264.92,238.26 267.84,238.46 271.12,238.69 C274.4,238.92 278.72,239.07 281.78,239.21 C284.84,239.35 288.2,239.5 289.49,239.56" stroke="#33b455" stroke-width="1.3" fill="none" />
<path d="M229.3,239.73 C230.94,239.53 236.13,238.95 239.14,238.52 C242.15,238.09 245.4,237.54 247.34,237.14 C249.28,236.74 249.14,237.37 250.78,236.11 C252.42,234.84 255.29,231.33 257.18,229.55 C259.07,227.77 260.3,226.44 262.1,225.41 C263.9,224.38 265.82,224.09 268,223.34 C270.19,222.59 272.71,221.85 275.22,220.93 C277.73,220 280.36,218.91 283.09,217.82 C285.83,216.73 289.13,215.58 291.62,214.37 C294.11,213.16 296.24,212.07 298.02,210.58 C299.79,209.08 301.1,207.41 302.28,205.4 C303.46,203.39 304.25,201.09 305.07,198.5 C305.89,195.91 306.52,192.75 307.2,189.88 C307.88,187 308.54,184.12 309.17,181.25 C309.8,178.38 310.62,174.35 310.97,172.62 C311.33,170.9 311.25,171.19 311.3,170.9" stroke="#ef8a3c" stroke-width="1.3" fill="none" />
<path d="M229.3,239.73 C230.94,239.53 235.59,238.89 239.14,238.52 C242.69,238.15 247.34,237.74 250.62,237.49 C253.9,237.23 256.09,237.43 258.82,236.97 C261.55,236.51 264.7,235.67 267.02,234.72 C269.34,233.78 271.17,232.43 272.76,231.28 C274.35,230.12 275.41,229.26 276.53,227.83 C277.65,226.39 278.58,225.01 279.48,222.65 C280.39,220.29 281.21,216.56 281.94,213.68 C282.68,210.81 283.37,207.93 283.91,205.4 C284.46,202.87 284.84,200.69 285.22,198.5 C285.61,196.31 285.83,194.88 286.21,192.29 C286.59,189.7 287.08,186.54 287.52,182.98 C287.96,179.41 288.61,172.91 288.83,170.9" stroke="#3f7ccc" stroke-width="1.3" fill="none" />
<path d="M229.3,239.73 C230.67,239.53 234.49,238.87 237.5,238.52 C240.51,238.18 244.61,237.89 247.34,237.66 C250.07,237.43 251.44,237.4 253.9,237.14 C256.36,236.88 259.64,236.68 262.1,236.11 C264.56,235.53 266.94,234.55 268.66,233.69 C270.38,232.83 271.2,232.31 272.43,230.93 C273.66,229.55 275,227.59 276.04,225.41 C277.08,223.22 277.9,220.58 278.66,217.82 C279.43,215.06 280.09,211.5 280.63,208.85 C281.18,206.2 281.48,204.82 281.94,201.95 C282.41,199.07 282.98,195.34 283.42,191.6 C283.86,187.86 284.27,182.98 284.57,179.53 C284.87,176.07 285.11,172.34 285.22,170.9" stroke="#33b455" stroke-width="1.3" fill="none" />
</g>
<line x1="259.5" y1="190.1" x2="296" y2="190.1" stroke="#33b455" stroke-width="1" stroke-dasharray="2,1.4"/>
<path d="M256,190.1 L260.5,187.9 L260.5,192.3 Z" fill="#33b455"/>
<rect x="34.2" y="156.6" width="320.1" height="102" fill="none" stroke="#2b2b2b" stroke-width="1.1"/>
<rect x="368.8" y="140" width="182" height="140" fill="#fff"/>
<text x="379.4" y="157.3" font-size="18.4" text-anchor="start" fill="#111" stroke="#111" stroke-width="0.22" style="font-family:'Liberation Serif',serif;font-weight:bold;">e</text>
<rect x="402.1" y="156.5" width="140.9" height="102.8" fill="none" stroke="#2b2b2b" stroke-width="1.1"/>
<line x1="402.5" y1="259.3" x2="402.5" y2="261.7" stroke="#2b2b2b" stroke-width="0.9" />
<text x="402.5" y="267.8" font-size="6.6" text-anchor="middle" fill="#111" stroke="#111" stroke-width="0.22" style="font-family:'Liberation Serif',serif;font-weight:bold;">0</text>
<line x1="417.32" y1="259.3" x2="417.32" y2="260.7" stroke="#2b2b2b" stroke-width="0.9" />
<line x1="432.15" y1="259.3" x2="432.15" y2="261.7" stroke="#2b2b2b" stroke-width="0.9" />
<text x="432.15" y="267.8" font-size="6.6" text-anchor="middle" fill="#111" stroke="#111" stroke-width="0.22" style="font-family:'Liberation Serif',serif;font-weight:bold;">100</text>
<line x1="446.98" y1="259.3" x2="446.98" y2="260.7" stroke="#2b2b2b" stroke-width="0.9" />
<line x1="461.8" y1="259.3" x2="461.8" y2="261.7" stroke="#2b2b2b" stroke-width="0.9" />
<text x="461.8" y="267.8" font-size="6.6" text-anchor="middle" fill="#111" stroke="#111" stroke-width="0.22" style="font-family:'Liberation Serif',serif;font-weight:bold;">200</text>
<line x1="476.62" y1="259.3" x2="476.62" y2="260.7" stroke="#2b2b2b" stroke-width="0.9" />
<line x1="491.45" y1="259.3" x2="491.45" y2="261.7" stroke="#2b2b2b" stroke-width="0.9" />
<text x="491.45" y="267.8" font-size="6.6" text-anchor="middle" fill="#111" stroke="#111" stroke-width="0.22" style="font-family:'Liberation Serif',serif;font-weight:bold;">300</text>
<line x1="506.27" y1="259.3" x2="506.27" y2="260.7" stroke="#2b2b2b" stroke-width="0.9" />
<line x1="521.1" y1="259.3" x2="521.1" y2="261.7" stroke="#2b2b2b" stroke-width="0.9" />
<text x="521.1" y="267.8" font-size="6.6" text-anchor="middle" fill="#111" stroke="#111" stroke-width="0.22" style="font-family:'Liberation Serif',serif;font-weight:bold;">400</text>
<line x1="535.92" y1="259.3" x2="535.92" y2="260.7" stroke="#2b2b2b" stroke-width="0.9" />
<line x1="402.1" y1="258.8" x2="399.7" y2="258.8" stroke="#2b2b2b" stroke-width="0.9" />
<text x="399.3" y="261.2" font-size="6.6" text-anchor="end" fill="#111" stroke="#111" stroke-width="0.22" style="font-family:'Liberation Serif',serif;font-weight:bold;">0.0</text>
<line x1="402.1" y1="246" x2="400.7" y2="246" stroke="#2b2b2b" stroke-width="0.9" />
<line x1="402.1" y1="233.2" x2="399.7" y2="233.2" stroke="#2b2b2b" stroke-width="0.9" />
<text x="399.3" y="235.6" font-size="6.6" text-anchor="end" fill="#111" stroke="#111" stroke-width="0.22" style="font-family:'Liberation Serif',serif;font-weight:bold;">0.5</text>
<line x1="402.1" y1="220.4" x2="400.7" y2="220.4" stroke="#2b2b2b" stroke-width="0.9" />
<line x1="402.1" y1="207.6" x2="399.7" y2="207.6" stroke="#2b2b2b" stroke-width="0.9" />
<text x="399.3" y="210" font-size="6.6" text-anchor="end" fill="#111" stroke="#111" stroke-width="0.22" style="font-family:'Liberation Serif',serif;font-weight:bold;">1.0</text>
<line x1="402.1" y1="194.8" x2="400.7" y2="194.8" stroke="#2b2b2b" stroke-width="0.9" />
<line x1="402.1" y1="182" x2="399.7" y2="182" stroke="#2b2b2b" stroke-width="0.9" />
<text x="399.3" y="184.4" font-size="6.6" text-anchor="end" fill="#111" stroke="#111" stroke-width="0.22" style="font-family:'Liberation Serif',serif;font-weight:bold;">1.5</text>
<line x1="402.1" y1="169.2" x2="400.7" y2="169.2" stroke="#2b2b2b" stroke-width="0.9" />
<line x1="402.1" y1="156.4" x2="399.7" y2="156.4" stroke="#2b2b2b" stroke-width="0.9" />
<text x="399.3" y="158.8" font-size="6.6" text-anchor="end" fill="#111" stroke="#111" stroke-width="0.22" style="font-family:'Liberation Serif',serif;font-weight:bold;">2.0</text>
<text x="472.5" y="277.1" font-size="8.8" text-anchor="middle" fill="#111" stroke="#111" stroke-width="0.22" style="font-family:'Liberation Serif',serif;font-weight:bold;">Specific capacity (mAh/g)</text>
<text x="0" y="0" font-size="8.8" text-anchor="middle" fill="#111" stroke="#111" stroke-width="0.22" style="font-family:'Liberation Serif',serif;font-weight:bold;" transform="translate(386.8 213.4) rotate(-90)">Voltage (V)</text>
<text x="435.8" y="202.9" font-size="13.6" text-anchor="middle" fill="#1f6fc6" stroke="#1f6fc6" stroke-width="0.22" style="font-family:'Liberation Serif',serif;font-weight:bold;">-40&#176;C</text>
<defs><linearGradient id="thg" x1="0" y1="0" x2="0" y2="1"><stop offset="0" stop-color="#6cc0ee"/><stop offset="1" stop-color="#3a9fe0"/></linearGradient></defs>
<path d="M433.6,233.6 L433.6,208.8 A3.95,3.95 0 0 1 441.5,208.8 L441.5,233.6 A8,8 0 1 1 433.6,233.6 Z" fill="#fff" stroke="#6f6f6f" stroke-width="1.0"/>
<path d="M435.2,235 L435.2,217.3 L439.9,217.3 L439.9,235 A6,6 0 1 1 435.2,235 Z" fill="url(#thg)"/>
<line x1="434.9" y1="210" x2="436.4" y2="210" stroke="#777" stroke-width="0.5" />
<line x1="434.9" y1="212.6" x2="435.9" y2="212.6" stroke="#777" stroke-width="0.5" />
<line x1="434.9" y1="215.2" x2="436.4" y2="215.2" stroke="#777" stroke-width="0.5" />
<line x1="434.9" y1="217.8" x2="435.9" y2="217.8" stroke="#777" stroke-width="0.5" />
<line x1="434.9" y1="220.4" x2="436.4" y2="220.4" stroke="#777" stroke-width="0.5" />
<line x1="434.9" y1="223" x2="435.9" y2="223" stroke="#777" stroke-width="0.5" />
<line x1="434.9" y1="225.6" x2="436.4" y2="225.6" stroke="#777" stroke-width="0.5" />
<line x1="434.9" y1="228.2" x2="435.9" y2="228.2" stroke="#777" stroke-width="0.5" />
<g stroke="#6f8fcc" stroke-width="0.95" stroke-linecap="round" fill="none"><line x1="496.6" y1="216" x2="505.9" y2="216"/><line x1="499.81" y1="216" x2="502.24" y2="218.6"/><line x1="499.81" y1="216" x2="502.24" y2="213.4"/><line x1="502.75" y1="216" x2="504.95" y2="218.36"/><line x1="502.75" y1="216" x2="504.95" y2="213.64"/><line x1="496" y1="217.04" x2="500.65" y2="225.09"/><line x1="497.6" y1="219.82" x2="496.57" y2="223.22"/><line x1="497.6" y1="219.82" x2="501.07" y2="220.62"/><line x1="499.07" y1="222.37" x2="498.13" y2="225.46"/><line x1="499.07" y1="222.37" x2="502.22" y2="223.09"/><line x1="494.8" y1="217.04" x2="490.15" y2="225.09"/><line x1="493.19" y1="219.82" x2="489.73" y2="220.62"/><line x1="493.19" y1="219.82" x2="494.23" y2="223.22"/><line x1="491.72" y1="222.37" x2="488.58" y2="223.09"/><line x1="491.72" y1="222.37" x2="492.67" y2="225.46"/><line x1="494.2" y1="216" x2="484.9" y2="216"/><line x1="490.99" y1="216" x2="488.56" y2="213.4"/><line x1="490.99" y1="216" x2="488.56" y2="218.6"/><line x1="488.05" y1="216" x2="485.84" y2="213.64"/><line x1="488.05" y1="216" x2="485.84" y2="218.36"/><line x1="494.8" y1="214.96" x2="490.15" y2="206.91"/><line x1="493.19" y1="212.18" x2="494.23" y2="208.78"/><line x1="493.19" y1="212.18" x2="489.73" y2="211.38"/><line x1="491.72" y1="209.63" x2="492.67" y2="206.54"/><line x1="491.72" y1="209.63" x2="488.58" y2="208.91"/><line x1="496" y1="214.96" x2="500.65" y2="206.91"/><line x1="497.6" y1="212.18" x2="501.07" y2="211.38"/><line x1="497.6" y1="212.18" x2="496.57" y2="208.78"/><line x1="499.07" y1="209.63" x2="502.22" y2="208.91"/><line x1="499.07" y1="209.63" x2="498.13" y2="206.54"/></g><circle cx="495.4" cy="216" r="1.5" fill="#2c3f86"/>
<ellipse cx="495.4" cy="231" rx="8" ry="2" fill="#eef1f8"/>
<text x="534.6" y="162.6" font-size="5.6" text-anchor="middle" fill="#2e6fc0" stroke="#2e6fc0" stroke-width="0.22" style="font-family:'Liberation Serif',serif;font-weight:bold;">-40&#176;C</text>
<g fill="none" stroke-width="1.0" stroke-linecap="round">
<path d="M402.5,156.4 C402.51,163.23 402.54,186.27 402.59,197.36 C402.64,208.45 402.61,217.5 402.8,222.96 C402.98,228.42 402.75,227.99 403.69,230.13 C404.62,232.26 406.16,233.37 408.43,235.76 C410.7,238.15 414.61,241.99 417.32,244.46 C420.04,246.94 422.27,249.07 424.74,250.61 C427.21,252.14 428.44,252.74 432.15,253.68 C435.86,254.62 440.55,255.56 446.98,256.24 C453.4,256.92 463.28,257.43 470.69,257.78 C478.11,258.12 487.99,258.2 491.45,258.29" stroke="#8a8a8a" stroke-width="1.15" fill="none" />
<path d="M402.5,156.4 C402.51,163.23 402.54,185.84 402.59,197.36 C402.64,208.88 402.66,219.72 402.8,225.52 C402.93,231.32 402.7,230.04 403.39,232.18 C404.08,234.31 405.37,236.02 406.95,238.32 C408.53,240.62 410.9,243.78 412.88,246 C414.85,248.22 416.58,250.18 418.81,251.63 C421.03,253.08 423.01,253.94 426.22,254.7 C429.43,255.47 432.15,255.73 438.08,256.24 C444.01,256.75 454.88,257.43 461.8,257.78 C468.72,258.12 476.62,258.2 479.59,258.29" stroke="#33b455" stroke-width="1.15" fill="none" />
<path d="M402.5,156.4 C402.51,163.23 402.53,186.69 402.59,197.36 C402.65,208.03 402.67,215.28 402.86,220.4 C403.04,225.52 402.76,225.78 403.69,228.08 C404.62,230.38 406.16,231.66 408.43,234.22 C410.7,236.78 414.61,240.79 417.32,243.44 C420.04,246.09 422.27,248.39 424.74,250.1 C427.21,251.8 428.44,252.66 432.15,253.68 C435.86,254.7 441.05,255.56 446.98,256.24 C452.91,256.92 460.32,257.43 467.73,257.78 C475.14,258.12 487.5,258.2 491.45,258.29" stroke="#ef8a3c" stroke-width="1.15" fill="none" />
<path d="M402.5,156.4 C402.51,163.23 402.54,185.84 402.59,197.36 C402.64,208.88 402.66,219.55 402.8,225.52 C402.93,231.49 402.45,231.41 403.39,233.2 C404.33,234.99 406.11,234.99 408.43,236.27 C410.75,237.55 414.36,239.17 417.32,240.88 C420.29,242.59 423.75,244.89 426.22,246.51 C428.69,248.13 429.93,249.41 432.15,250.61 C434.37,251.8 436.6,252.91 439.56,253.68 C442.53,254.45 443.76,254.79 449.94,255.22 C456.12,255.64 467.24,255.9 476.62,256.24 C486.01,256.58 497.38,256.92 506.27,257.26 C515.17,257.61 526.04,258.12 530,258.29" stroke="#3f7ccc" stroke-width="1.15" fill="none" />
<path d="M402.5,257.78 C404.97,257.52 411.39,256.67 417.32,256.24 C423.25,255.81 432.15,255.47 438.08,255.22 C444.01,254.96 449.25,254.96 452.9,254.7 C456.56,254.45 457.55,255.13 460.02,253.68 C462.49,252.23 465.21,249.93 467.73,246 C470.25,242.07 473.26,235.25 475.14,230.13 C477.02,225.01 477.86,220.31 479,215.28 C480.13,210.25 481.07,205.47 481.96,199.92 C482.85,194.37 483.59,189.25 484.33,182 C485.08,174.75 486.06,160.67 486.41,156.4" stroke="#8a8a8a" stroke-width="1.15" fill="none" />
<path d="M402.5,257.78 C404.48,257.43 409.42,256.24 414.36,255.73 C419.3,255.22 427.95,254.96 432.15,254.7 C436.35,254.45 437.59,254.53 439.56,254.19 C441.54,253.85 442.18,254.87 444.01,252.66 C445.84,250.44 448.66,244.98 450.53,240.88 C452.41,236.78 454.04,231.58 455.28,228.08 C456.51,224.58 457.06,224.15 457.95,219.89 C458.83,215.62 459.87,208.79 460.61,202.48 C461.36,196.17 461.85,189.68 462.39,182 C462.94,174.32 463.63,160.67 463.88,156.4" stroke="#33b455" stroke-width="1.15" fill="none" />
<path d="M402.5,257.78 C404.97,257.48 411.89,256.41 417.32,255.98 C422.76,255.56 430.17,255.47 435.12,255.22 C440.06,254.96 443.91,255.56 446.98,254.45 C450.04,253.34 451.62,251.67 453.5,248.56 C455.38,245.45 456.86,240.54 458.24,235.76 C459.63,230.98 460.56,225.86 461.8,219.89 C463.04,213.91 464.62,206.66 465.65,199.92 C466.69,193.18 467.29,186.69 468.03,179.44 C468.77,172.19 469.76,160.24 470.1,156.4" stroke="#ef8a3c" stroke-width="1.15" fill="none" />
<path d="M402.5,257.78 C404.48,257.52 409.42,256.62 414.36,256.24 C419.3,255.86 424.24,255.69 432.15,255.47 C440.06,255.26 453.84,255.17 461.8,254.96 C469.76,254.75 475.19,254.75 479.89,254.19 C484.58,253.64 486.56,252.91 489.97,251.63 C493.38,250.35 497.23,248.73 500.35,246.51 C503.46,244.29 505.93,241.9 508.65,238.32 C511.36,234.74 514.53,230.81 516.65,225.01 C518.78,219.21 520.16,211.53 521.4,203.5 C522.63,195.48 523.27,184.73 524.07,176.88 C524.86,169.03 525.79,159.81 526.14,156.4" stroke="#3f7ccc" stroke-width="1.15" fill="none" />
</g>
<line x1="403.4" y1="161.1" x2="416" y2="161.1" stroke="#ef8a3c" stroke-width="1.3" />
<text x="0" y="0" font-size="6.4" text-anchor="start" fill="#111" stroke="#111" stroke-width="0.22" style="font-family:'Liberation Serif',serif;font-weight:bold;" transform="translate(417.7 163.4) scale(0.88,1)">HCM-1300</text>
<line x1="403.4" y1="168.3" x2="416" y2="168.3" stroke="#3f7ccc" stroke-width="1.3" />
<text x="0" y="0" font-size="6.4" text-anchor="start" fill="#111" stroke="#111" stroke-width="0.22" style="font-family:'Liberation Serif',serif;font-weight:bold;" transform="translate(417.7 170.6) scale(0.88,1)">HCM-1300-ZBE</text>
<line x1="403.4" y1="175.5" x2="416" y2="175.5" stroke="#8a8a8a" stroke-width="1.3" />
<text x="0" y="0" font-size="6.4" text-anchor="start" fill="#111" stroke="#111" stroke-width="0.22" style="font-family:'Liberation Serif',serif;font-weight:bold;" transform="translate(417.7 177.8) scale(0.88,1)">HCM-1500-ZBE</text>
<line x1="403.4" y1="182.7" x2="416" y2="182.7" stroke="#33b455" stroke-width="1.3" />
<text x="0" y="0" font-size="6.4" text-anchor="start" fill="#111" stroke="#111" stroke-width="0.22" style="font-family:'Liberation Serif',serif;font-weight:bold;" transform="translate(417.7 185) scale(0.88,1)">Commercial-HC</text>
<text x="12.6" y="299.2" font-size="17" text-anchor="start" fill="#111" stroke="#111" stroke-width="0.22" style="font-family:'Liberation Sans',sans-serif;font-weight:bold;">f</text>
<path d="M59.6,283.8 L338.9,285.3 L338.9,296.3 L59.6,296.4 Z" fill="#d6e8c3"/>
<circle cx="66.2" cy="291.0" r="2.2" fill="#3fc0e4"/>
<text x="73" y="294.1" font-size="7.9" text-anchor="start" fill="#111" stroke="#111" stroke-width="0.22" style="font-family:'Liberation Serif',serif;font-weight:bold;">Na<tspan dy="-3" font-size="4.8">+</tspan></text>
<circle cx="106.5" cy="291.0" r="2.1" fill="#74329e"/>
<text x="112.2" y="293.9" font-size="7.9" text-anchor="start" fill="#111" stroke="#111" stroke-width="0.22" style="font-family:'Liberation Serif',serif;font-weight:bold;">Na<tspan dy="-3" font-size="4.8">+</tspan><tspan dy="3"> filling nanopore</tspan></text>
<path d="M193.2,290.6 L197,290.6 C199,290.6 200,289.2 202.2,289.4 C204.5,289.6 204.8,292 207.5,291.8 L211.6,291.4" stroke="#555" stroke-width="1.3" fill="none" />
<text x="213.4" y="293.3" font-size="7.9" text-anchor="start" fill="#111" stroke="#111" stroke-width="0.22" style="font-family:'Liberation Serif',serif;font-weight:bold;">Carbon layer</text>
<path d="M275.9,286.3 C277,289 278,292.5 279.1,295.0 C280.5,294.2 282,293.2 283.6,292.4 C285,291.8 286.4,291.5 286.8,290.6 C287,289 286,287.5 285,286.9 C283.6,286 282.4,285.4 281.4,285.6 C280,286.5 279,288.2 279.1,289.7 C279.4,291.2 280,292.6 280.5,292.8 C281.6,292.3 282.5,291.2 283.2,290.6" stroke="#6a6a6a" stroke-width="1.25" fill="none" stroke-linecap="round" stroke-linejoin="round"/>
<path d="M275.9,286.3 C276.6,285.6 277.4,285.5 278.0,286.2" stroke="#6a6a6a" stroke-width="1.1" fill="none" />
<text x="292.4" y="292.8" font-size="7.9" text-anchor="start" fill="#111" stroke="#111" stroke-width="0.22" style="font-family:'Liberation Serif',serif;font-weight:bold;">Nanopores</text>
<text x="78.5" y="311.3" font-size="7.85" text-anchor="middle" fill="#111" stroke="#111" stroke-width="0.22" style="font-family:'Liberation Serif',serif;font-weight:bold;">HCM-1300</text>
<text x="249.8" y="312.4" font-size="7.85" text-anchor="middle" fill="#111" stroke="#111" stroke-width="0.22" style="font-family:'Liberation Serif',serif;font-weight:bold;">HCM-1300/1500-ZBE</text>
<text x="421.5" y="311.4" font-size="7.85" text-anchor="middle" fill="#111" stroke="#111" stroke-width="0.22" style="font-family:'Liberation Serif',serif;font-weight:bold;">HCM-1500</text>
<radialGradient id="sg1" cx="0.55" cy="0.42" r="0.62"><stop offset="0" stop-color="#e4f0de"/><stop offset="0.6" stop-color="#d5e5cc"/><stop offset="0.9" stop-color="#c6d8bc"/><stop offset="1" stop-color="#b8cbad"/></radialGradient>
<radialGradient id="hl1"><stop offset="0" stop-color="#ffffff" stop-opacity="1"/><stop offset="0.55" stop-color="#ffffff" stop-opacity="0.92"/><stop offset="1" stop-color="#ffffff" stop-opacity="0"/></radialGradient>
<ellipse cx="76.5" cy="356.6" rx="44.5" ry="42.1" fill="url(#sg1)" stroke="#9aa88e" stroke-width="0.6"/>
<ellipse cx="91" cy="343.5" rx="14.3" ry="13" fill="url(#hl1)"/>
<g fill="none" stroke="#858585" stroke-width="1" stroke-linecap="round"><path d="M70.08,361.42 Q72.31,361.15 74.45,361.84"/><path d="M116.01,352.29 Q114.31,353.78 112.5,355.12"/><path d="M75.25,362.73 Q77.23,363.91 79.15,365.18"/><path d="M50.15,356.33 Q48.54,357.74 46.72,358.88"/><path d="M85.81,380.44 Q88.22,380.83 90.3,382.1"/><path d="M40.86,337.85 Q40.41,340.05 39.89,342.24"/><path d="M91.88,365.4 Q89.99,365.96 88.52,367.26"/><path d="M80.3,317.56 Q78.99,319.49 77.75,321.46"/><path d="M50.21,333.29 Q49.36,335.22 47.65,336.45"/><path d="M32.71,351.79 Q34.23,354.05 36.64,355.34"/><path d="M68.76,384.37 Q71.05,385.78 73.65,386.5"/><path d="M75.94,368.38 Q76.8,370.19 77.02,372.17"/><path d="M72.78,335.87 Q72.21,337.9 72.62,339.97"/><path d="M104.54,373.7 Q106.87,373.59 109.02,374.49"/><path d="M58.26,332.96 Q60.27,333.41 61.86,334.72"/><path d="M100.39,346.17 Q100.54,348.25 100.01,350.26"/><path d="M109.28,346.36 Q107.56,347.65 105.41,347.73"/><path d="M36.29,367.02 Q38.6,367.05 40.71,367.98"/><path d="M99.33,336.33 Q101.3,337.2 103.24,338.1"/><path d="M41.19,333.41 Q42.7,335.1 43.82,337.08"/><path d="M102.58,327.32 Q102.55,329.53 103.29,331.6"/><path d="M83.75,352.04 Q81.75,351.81 79.8,352.31"/><path d="M46.64,375.54 Q49.11,375.58 51.3,376.71"/><path d="M41.61,368.45 Q43.57,369.38 45.7,368.95"/><path d="M41.72,347.66 Q42.33,349.94 43.02,352.19"/><path d="M57.18,387.32 Q59.28,388.76 60.96,390.69"/><path d="M50.39,345.58 Q51.27,347.61 51.12,349.82"/><path d="M110.01,367.44 Q107.84,368.19 106.07,369.65"/><path d="M98.79,341.06 Q101.04,341.73 102.75,343.33"/><path d="M56.98,318.47 Q57.68,321.12 59.76,322.89"/><path d="M52.74,363.23 Q53.05,365.4 54.52,367.02"/><path d="M63.08,351.94 Q65.02,352.82 67.08,353.38"/><path d="M83.7,385.32 Q83.4,387.53 82.58,389.6"/><path d="M49.84,326.34 Q48.11,327.26 46.7,328.61"/><path d="M55.15,328.56 Q54.83,330.79 53.27,332.4"/><path d="M69.63,320.87 Q69.65,323.25 69.39,325.61"/><path d="M55.84,373.67 Q53.2,373.45 50.59,373.98"/><path d="M53.43,382.41 Q54.64,384.09 56.31,385.31"/><path d="M85.73,337.11 Q85.34,339.29 84.44,341.31"/><path d="M81.11,323.79 Q83.38,325.12 84.74,327.37"/><path d="M66.24,388.24 Q64.03,389.2 62.22,390.79"/><path d="M76.36,374.68 Q74.58,375.64 73.47,377.33"/><path d="M38.68,357.96 Q38.63,360.48 38.71,363"/><path d="M98.61,387.93 Q97.45,390.23 96.58,392.66"/><path d="M95.43,373.39 Q97.66,373.42 99.77,374.11"/><path d="M64.62,369.98 Q62.74,371.85 62.01,374.4"/><path d="M68.66,378.93 Q68.6,381.18 69.59,383.19"/><path d="M108.89,360.53 Q108.49,362.72 108.81,364.93"/><path d="M85.03,346.61 Q87.64,346.03 90.22,346.77"/><path d="M82.29,364.23 Q84.34,365.27 85.43,367.3"/><path d="M97.34,360.9 Q96.66,363.44 97.5,365.93"/><path d="M92.39,354.37 Q93.51,356.93 95.91,358.37"/><path d="M85.34,390.56 Q86.87,391.84 88.04,393.45"/><path d="M112.16,367.56 Q112.05,370.17 113.06,372.58"/><path d="M87.31,354.15 Q87.24,356.17 88.07,358.02"/><path d="M60.98,379.34 Q59.1,380.82 58.03,382.96"/><path d="M104.58,333 Q105.65,334.65 107.1,335.98"/><path d="M94.31,329.82 Q93.34,331.69 91.53,332.75"/><path d="M74.91,327.42 Q73.74,329.38 73.66,331.67"/><path d="M54.92,341.84 Q56.3,343.57 57.56,345.38"/><path d="M63.54,362.36 Q65.53,362.88 67.53,362.43"/><path d="M94.86,381.11 Q96.69,383.14 97.64,385.7"/><path d="M87.5,373.9 Q89.3,374.62 90.71,375.95"/><path d="M78.86,379.37 Q79.92,381.01 80.72,382.8"/><path d="M55.74,374.77 Q58.07,375.41 59.91,376.96"/><path d="M49.32,384.34 Q50.38,386.24 51.74,387.93"/><path d="M118.34,356.36 Q118.48,358.66 118.05,360.92"/><path d="M80.85,330.75 Q83.16,330.92 85.14,332.1"/><path d="M82.13,355.93 Q79.83,357.22 77.26,357.81"/><path d="M92.7,317.6 Q94.3,319.79 94.3,322.5"/><path d="M53.51,353.85 Q55.97,354.29 58.41,354.83"/><path d="M48.98,364.05 Q49.48,366.52 49.1,369"/><path d="M94.57,339.7 Q92.6,341.21 91.73,343.54"/><path d="M41.05,374.12 Q41.75,375.98 41.62,377.97"/><path d="M44.61,355.41 Q43,357.54 41.24,359.55"/><path d="M111.7,338.76 Q111.59,341.3 112.98,343.43"/><path d="M91.03,389.67 Q92.41,391.59 94.43,392.81"/><path d="M48.13,350.41 Q47.91,352.72 48.14,355.03"/><path d="M95.88,377.52 Q94.07,379.41 91.79,380.69"/><path d="M81.25,345.68 Q79.28,347.12 77.64,348.93"/><path d="M84.19,318.07 Q86.1,319.91 88.6,320.79"/><path d="M65.39,336.8 Q64.23,338.41 63.68,340.32"/><path d="M72.53,353.73 Q70.44,355.22 67.93,355.7"/><path d="M79.94,391.4 Q78.36,393.27 77.22,395.44"/><path d="M70.05,368.64 Q71.13,370.92 72.78,372.84"/><path d="M99.97,357.52 Q101.45,359.03 102.51,360.86"/><path d="M99.72,334.51 Q97.34,334.09 94.98,334.64"/><path d="M103.27,365.11 Q101.96,367.24 100.34,369.13"/><path d="M59.24,359.47 Q60.62,361.17 62.67,361.92"/><path d="M67.61,345.41 Q70.11,344.97 72.51,345.77"/><path d="M55.79,325.15 Q57.54,326.18 58.57,327.92"/><path d="M63.55,322.74 Q64.67,324.35 65.66,326.03"/><path d="M62.19,347.29 Q60.23,348.05 58.35,349.01"/><path d="M66.36,344.38 Q64.77,345.7 62.71,345.8"/><path d="M87.28,334.89 Q89.83,334.6 92.24,335.45"/><path d="M112.35,346.76 Q113.4,349.09 114.52,351.38"/><path d="M106.13,381.8 Q107.94,382.43 109.79,382.91"/><path d="M105.13,352.69 Q105.08,354.94 104.32,357.06"/><path d="M106.84,357.9 Q109.36,358.13 111.88,358.02"/><path d="M57.69,358.23 Q55.51,359.19 53.75,360.79"/><path d="M44.32,377.61 Q45.08,379.57 46.5,381.12"/><path d="M114.58,363.38 Q117.21,363.06 119.49,364.41"/><path d="M73.35,393.26 Q73.78,395.98 72.85,398.57"/><path d="M82.39,371.33 Q82.96,373.37 84.23,375.06"/><path d="M75.77,336.4 Q78.25,336.78 80.75,337"/><path d="M91.28,324.5 Q92.41,326.55 92.16,328.88"/><path d="M71.45,348.16 Q73.64,349.59 76.19,350.12"/><path d="M71.62,388.78 Q70.13,390.43 69.32,392.5"/><path d="M51.98,337.99 Q51.34,340.34 51.75,342.74"/><path d="M75.87,383.32 Q77.07,385.65 78.14,388.05"/><path d="M100.01,379.83 Q102.21,380.79 104,382.39"/><path d="M35.74,347.48 Q37.77,348.72 39.14,350.67"/><path d="M66.59,332.61 Q67.07,334.56 67.53,336.52"/><path d="M76.84,322.73 Q77.07,325.35 78.61,327.48"/><path d="M95.17,349.57 Q93.26,350.36 91.22,350.04"/><path d="M62.44,376.48 Q63.55,378.35 65.45,379.42"/><path d="M100.69,375.42 Q102.57,376.32 104.34,377.42"/><path d="M58.85,367.56 Q56.56,368.13 54.92,369.84"/><path d="M63.91,328.94 Q64.22,331.03 63.73,333.09"/><path d="M111.46,333.07 Q111.51,335.7 111.91,338.31"/><path d="M103.16,384.77 Q105.27,385.75 106.9,387.42"/><path d="M86.16,359.31 Q84.56,360.45 82.99,361.63"/><path d="M42.63,359.91 Q42.41,362.45 43.55,364.72"/><path d="M90.48,384.27 Q88.81,385.55 87.99,387.48"/><path d="M61.82,353.78 Q60.79,355.53 60.7,357.57"/><path d="M108.24,342.12 Q106.01,342.55 103.77,342.14"/><path d="M92.88,358.68 Q90.94,360.37 89.72,362.62"/><path d="M74.91,314.61 Q73.34,316.9 73.17,319.68"/><path d="M45.22,341.69 Q46.45,344.03 47.95,346.2"/><path d="M99.11,320.91 Q99.62,323.14 98.95,325.32"/><path d="M56.04,335.91 Q57,338.44 56.49,341.09"/><path d="M75.03,342 Q76.75,343.36 78.51,344.67"/><path d="M109.38,376.33 Q111.04,377.91 112.53,379.66"/><path d="M96.16,352.35 Q98.22,353.02 100.36,353.21"/><path d="M58.75,364.76 Q60.99,364.99 62.71,366.43"/><path d="M83.36,341.11 Q80.95,342.53 79.73,345.04"/><path d="M71.15,329.21 Q68.63,329.24 66.54,330.66"/><path d="M45.81,381.54 Q46.85,383.95 46.47,386.54"/><path d="M63.34,394.19 Q65.44,393.95 67.47,394.52"/><path d="M59.55,338.74 Q60.65,340.81 61.2,343.09"/><path d="M95.64,326.29 Q96.98,327.75 98.58,328.9"/><path d="M35.5,356.66 Q34,358.47 33.15,360.67"/><path d="M76.59,351.84 Q75.33,353.8 74.85,356.07"/><path d="M62.1,382.7 Q63.94,384.44 65.89,386.05"/><path d="M91.89,368.5 Q93.26,370.1 95.14,371.05"/><path d="M68.36,374.1 Q70.21,374.97 71.27,376.72"/><path d="M63.29,317.64 Q63.06,319.64 63.68,321.55"/><path d="M118.1,344.38 Q116.23,345.11 115.03,346.7"/></g>
<ellipse cx="91" cy="343.5" rx="13.2" ry="12" fill="url(#hl1)" opacity="0.6"/>
<circle cx="43" cy="362" r="2" fill="none" stroke="#7a7a7a" stroke-width="0.9"/>
<linearGradient id="dr1" gradientUnits="userSpaceOnUse" x1="49.7" y1="324.6" x2="56.2" y2="332.3"><stop offset="0" stop-color="#d6f2fa" stop-opacity="0.5"/><stop offset="0.45" stop-color="#8ad8f0"/><stop offset="1" stop-color="#3fc2e6"/></linearGradient>
<path d="M48.94,325.25 L54.6,333.65 L57.8,330.95 L50.46,323.95 Z" fill="url(#dr1)"/>
<circle cx="56.2" cy="332.3" r="2.2" fill="#3fc0e4"/>
<linearGradient id="dr2" gradientUnits="userSpaceOnUse" x1="62.7" y1="320" x2="68.6" y2="325.2"><stop offset="0" stop-color="#d6f2fa" stop-opacity="0.5"/><stop offset="0.45" stop-color="#8ad8f0"/><stop offset="1" stop-color="#3fc2e6"/></linearGradient>
<path d="M62.04,320.75 L67.21,326.78 L69.99,323.62 L63.36,319.25 Z" fill="url(#dr2)"/>
<circle cx="68.6" cy="325.2" r="2.2" fill="#3fc0e4"/>
<linearGradient id="dr3" gradientUnits="userSpaceOnUse" x1="75.1" y1="317.5" x2="76.3" y2="327.6"><stop offset="0" stop-color="#d6f2fa" stop-opacity="0.5"/><stop offset="0.45" stop-color="#8ad8f0"/><stop offset="1" stop-color="#3fc2e6"/></linearGradient>
<path d="M74.11,317.62 L74.21,327.85 L78.39,327.35 L76.09,317.38 Z" fill="url(#dr3)"/>
<circle cx="76.3" cy="327.6" r="2.2" fill="#3fc0e4"/>
<linearGradient id="dr4" gradientUnits="userSpaceOnUse" x1="104.1" y1="323.5" x2="97" y2="328.8"><stop offset="0" stop-color="#d6f2fa" stop-opacity="0.5"/><stop offset="0.45" stop-color="#8ad8f0"/><stop offset="1" stop-color="#3fc2e6"/></linearGradient>
<path d="M103.5,322.7 L95.74,327.12 L98.26,330.48 L104.7,324.3 Z" fill="url(#dr4)"/>
<circle cx="97" cy="328.8" r="2.2" fill="#3fc0e4"/>
<rect x="47.7" y="370.6" width="20.3" height="19.1" rx="2.5" fill="none" stroke="#3aa9e0" stroke-width="0.9" stroke-dasharray="2.6,1.5"/>
<linearGradient id="bm1" x1="0" y1="0" x2="1" y2="0"><stop offset="0" stop-color="#9edcf0" stop-opacity="0.25"/><stop offset="1" stop-color="#62c4e6" stop-opacity="0.8"/></linearGradient>
<path d="M68,377 L136.4,369.2 L136.4,387.2 L68,383.5 Z" fill="url(#bm1)"/>
<rect x="136.4" y="360.9" width="48.3" height="37.9" rx="4.4" fill="none" stroke="#3aa9e0" stroke-width="1.3" stroke-dasharray="2.6,1.5"/>
<g fill="none" stroke="#6a6a6a" stroke-width="0.95" stroke-linecap="round"><path d="M141.3,362 C141.4,362.67 142.27,364.25 141.9,366 C141.53,367.75 139.57,371.42 139.1,372.5"/><path d="M150.1,367.5 C149.83,369.25 148.77,376.25 148.5,378"/><path d="M152.3,367 C152.77,367.73 154.73,369.85 155.1,371.4 C155.47,372.95 154.6,375.48 154.5,376.3"/><path d="M163.9,371.4 C163.72,371.77 162.07,373.15 162.8,373.6 C163.53,374.05 166.48,373.73 168.3,374.1 C170.12,374.47 172.8,375.52 173.7,375.8"/><path d="M174.3,368.6 C174.93,369.07 176.92,370.3 178.1,371.4 C179.28,372.5 180.85,374.57 181.4,375.2"/><path d="M138.6,380.2 C138.87,380.93 140.02,383.13 140.2,384.6 C140.38,386.07 139.78,388.27 139.7,389"/><path d="M152.9,382.9 C155.28,382.63 164.82,381.57 167.2,381.3"/><path d="M162.8,385.7 C164.62,385.78 171.88,386.12 173.7,386.2"/><path d="M163.9,388.4 C165.72,388.5 172.98,388.9 174.8,389"/><path d="M178.1,385.1 C178.38,386.65 179.52,392.85 179.8,394.4"/><path d="M149,387.9 C148.55,388.82 146.67,391.67 146.3,393.4 C145.93,395.13 146.72,397.48 146.8,398.3"/><path d="M161.7,392.3 C162.8,392.83 166.2,394.42 168.3,395.5 C170.4,396.58 173.3,398.25 174.3,398.8"/></g>
<circle cx="139.14" cy="366.44" r="1.25" fill="#3fc0e4"/>
<circle cx="142.99" cy="373.03" r="1.25" fill="#3fc0e4"/>
<circle cx="148.48" cy="368.63" r="1.25" fill="#3fc0e4"/>
<circle cx="152.87" cy="368.08" r="1.25" fill="#3fc0e4"/>
<circle cx="151.77" cy="373.58" r="1.25" fill="#3fc0e4"/>
<circle cx="163.86" cy="370.28" r="1.25" fill="#3fc0e4"/>
<circle cx="167.15" cy="376.32" r="1.25" fill="#3fc0e4"/>
<circle cx="174.84" cy="367.53" r="1.25" fill="#3fc0e4"/>
<circle cx="175.94" cy="373.58" r="1.25" fill="#3fc0e4"/>
<circle cx="141.34" cy="382.36" r="1.25" fill="#3fc0e4"/>
<circle cx="152.32" cy="382.36" r="1.25" fill="#3fc0e4"/>
<circle cx="160.01" cy="380.72" r="1.25" fill="#3fc0e4"/>
<circle cx="168.8" cy="383.46" r="1.25" fill="#3fc0e4"/>
<circle cx="166.6" cy="387.86" r="1.25" fill="#3fc0e4"/>
<circle cx="170.45" cy="388.41" r="1.25" fill="#3fc0e4"/>
<circle cx="146.28" cy="388.41" r="1.25" fill="#3fc0e4"/>
<circle cx="163.31" cy="391.7" r="1.25" fill="#3fc0e4"/>
<circle cx="177.04" cy="391.15" r="1.25" fill="#3fc0e4"/>
<circle cx="149.58" cy="396.65" r="1.25" fill="#3fc0e4"/>
<circle cx="161.11" cy="396.1" r="1.25" fill="#3fc0e4"/>
<circle cx="173.74" cy="396.1" r="1.25" fill="#3fc0e4"/>
<text x="130" y="353.5" font-size="7.9" text-anchor="start" fill="#111" stroke="#111" stroke-width="0.22" style="font-family:'Liberation Serif',serif;font-weight:bold;"><tspan font-style="italic">d</tspan><tspan dy="1.7" font-size="5.4" font-style="italic">002</tspan><tspan dy="-1.7">=0.36~0.38 nm</tspan></text>
<text x="0" y="0" font-size="8.4" text-anchor="start" fill="#e53430" stroke="#e53430" stroke-width="0.22" style="font-family:'Liberation Serif',serif;font-weight:bold;" transform="translate(42.3 408.6) scale(0.97,1)">D<tspan dy="1.8" font-size="5.0">Na+</tspan><tspan dy="-1.8">: 10</tspan><tspan dy="-3.3" font-size="5.2">-7.54</tspan><tspan dy="3.3"> ~ 10</tspan><tspan dy="-3.3" font-size="5.2">-9.16</tspan></text>
<radialGradient id="sg2" cx="0.55" cy="0.42" r="0.62"><stop offset="0" stop-color="#e4f0de"/><stop offset="0.6" stop-color="#d5e5cc"/><stop offset="0.9" stop-color="#c6d8bc"/><stop offset="1" stop-color="#b8cbad"/></radialGradient>
<radialGradient id="hl2"><stop offset="0" stop-color="#ffffff" stop-opacity="1"/><stop offset="0.55" stop-color="#ffffff" stop-opacity="0.92"/><stop offset="1" stop-color="#ffffff" stop-opacity="0"/></radialGradient>
<ellipse cx="248" cy="356" rx="44.9" ry="42.5" fill="url(#sg2)" stroke="#9aa88e" stroke-width="0.6"/>
<ellipse cx="264" cy="345" rx="12.1" ry="11" fill="url(#hl2)"/>
<g fill="none" stroke="#878787" stroke-linecap="round" stroke-linejoin="round"><path d="M254.6,347.95 Q255.92,349.88 257.93,351.09" stroke-width="1"/><path d="M251.08,322.42 Q250.34,324.51 250.32,326.73" stroke-width="1.45"/><path d="M222.88,351.73 L221.23,353.71 L218.69,353.26 L217.81,350.85 L219.46,348.87 L221.99,349.31 Z" stroke-width="1.2"/><path d="M269.04,348.07 Q267.09,349.71 264.68,350.54" stroke-width="1"/><path d="M248.92,373.71 L249.35,378.11 L252.19,379.21" stroke-width="1"/><path d="M235.66,315.8 Q234.74,318.32 235.02,320.99" stroke-width="1"/><path d="M275.91,362.31 Q273.22,363.18 270.94,364.84" stroke-width="1"/><path d="M265.01,366.05 Q262.15,365.91 259.35,366.52" stroke-width="1.2"/><path d="M273.33,344.43 Q271.28,344.58 269.32,345.24" stroke-width="1"/><path d="M255.32,367.19 L253.62,372.1 L251.59,372.96" stroke-width="1"/><path d="M262.7,328.88 Q260.81,329.4 258.87,329.06" stroke-width="1"/><path d="M216.26,339.87 Q219.03,341.25 222.01,342.11" stroke-width="1.45"/><path d="M278.12,331.58 L275.98,332.38 L274.23,330.92 L274.61,328.67 L276.75,327.88 L278.51,329.33 Z" stroke-width="1.2"/><path d="M256.71,383.46 L255.45,385.24 L253.28,385.04 L252.37,383.06 L253.63,381.28 L255.8,381.48 Z" stroke-width="1.2"/><path d="M235.72,344.21 Q232.96,345.53 229.89,345.63" stroke-width="1.2"/><path d="M231.03,337.46 Q229.25,339.66 226.98,341.36" stroke-width="1"/><path d="M228.54,321.59 L224.07,323.62 L223.17,325.76" stroke-width="1.2"/><path d="M271.62,372.66 Q273.61,373.37 275.35,374.55" stroke-width="1"/><path d="M254.44,391.46 Q252.09,391.69 249.73,391.73" stroke-width="1.45"/><path d="M210.57,347.96 Q208.21,349.12 205.67,349.8" stroke-width="1.2"/><path d="M242.92,328.85 Q245.25,329.76 246.97,331.58" stroke-width="1.45"/><path d="M226.74,347.67 Q225.68,349.27 224.91,351.03" stroke-width="1"/><path d="M286.07,350.98 Q283.94,350.92 281.92,351.62" stroke-width="1.2"/><path d="M233.01,386.6 Q234.21,389.24 234.75,392.09" stroke-width="1.45"/><path d="M267.99,382.76 Q265.52,384.43 262.68,385.31" stroke-width="1.2"/><path d="M214.36,365.37 Q212.63,366.97 211.32,368.94" stroke-width="1.45"/><path d="M232.99,358.52 Q233.26,361.05 232.92,363.57" stroke-width="1.2"/><path d="M256.17,358.16 Q253.85,360.08 250.97,360.95" stroke-width="1.45"/><path d="M223.32,359.3 L225.1,363.05 L228.31,363.74" stroke-width="1.45"/><path d="M246.53,350.03 L244.21,353.4 L245.17,355.73" stroke-width="1"/><path d="M237.69,377.59 L236.25,382.96 L234.14,384.61" stroke-width="1.2"/><path d="M218.5,370.96 Q221.38,371.39 224.27,371.83" stroke-width="1.45"/><path d="M243.19,319.09 L238.9,321.81 L238.51,323.97" stroke-width="1.2"/><path d="M264.11,352.36 Q265.8,354.43 267.74,356.27" stroke-width="1.45"/><path d="M266.26,357.12 L263.68,361.53 L261.6,361.81" stroke-width="1"/><path d="M281.09,353.72 Q280.67,355.82 280.19,357.91" stroke-width="1.45"/><path d="M259.98,337.8 Q257.35,337.83 254.89,338.78" stroke-width="1.2"/><path d="M243.73,359.86 Q245.95,360.73 248.28,361.28" stroke-width="1.45"/><path d="M229.08,385.69 L224.51,386.2 L223.19,384.29" stroke-width="1.2"/><path d="M278.27,334.5 L282.08,336.57 L282.5,339.21" stroke-width="1.45"/><path d="M213.37,375.86 Q211.3,376.7 209.06,376.65" stroke-width="1.2"/><path d="M241.57,370.4 Q238.63,371.22 235.7,372.11" stroke-width="1.45"/><path d="M287.81,368.12 Q285.13,368.78 282.76,370.19" stroke-width="1"/><path d="M243.79,339.77 Q241.29,340 239.03,341.07" stroke-width="1"/><path d="M255.95,358.62 Q258.77,358.55 261.54,359.05" stroke-width="1.45"/><path d="M215.21,343.43 L214.19,348.19 L211.69,348.73" stroke-width="1.45"/><path d="M269.69,383.09 L275.52,385.19 L275.97,387.36" stroke-width="1.2"/><path d="M270.34,378.74 L268.55,380.26 L266.34,379.47 L265.92,377.16 L267.71,375.65 L269.92,376.44 Z" stroke-width="1.2"/><path d="M252.6,328.82 L249.7,333.98 L246.99,334.08" stroke-width="1"/><path d="M233.76,350.37 L232.13,352.11 L229.82,351.56 L229.13,349.28 L230.76,347.55 L233.08,348.09 Z" stroke-width="1.2"/><path d="M242.87,333.91 L237.75,334.9 L236.52,333.16" stroke-width="1.2"/><path d="M233.39,371.51 L231.54,372.73 L229.56,371.73 L229.43,369.52 L231.29,368.3 L233.27,369.3 Z" stroke-width="1.2"/><path d="M288.35,357.95 Q289.94,359.16 291.62,360.23" stroke-width="1.2"/><path d="M258.67,389.91 Q257.55,391.5 256.77,393.29" stroke-width="1.45"/><path d="M276.53,345.18 Q278.89,346.34 280.57,348.37" stroke-width="1.2"/><path d="M265.09,369.2 Q266.67,370.44 268.41,371.44" stroke-width="1.45"/><path d="M227.47,325.8 Q227.69,327.83 227.74,329.87" stroke-width="1.45"/><path d="M255.02,318.02 L259.36,319.78 L259.71,322.25" stroke-width="1.2"/><path d="M272.01,336.76 L276.2,340.43 L278.94,339.45" stroke-width="1"/><path d="M260.69,322.37 Q262.94,323.25 265.31,323.73" stroke-width="1"/><path d="M250.69,334.58 Q249.31,336.83 247.41,338.67" stroke-width="1"/><path d="M260.15,386.15 Q261.44,387.77 262.19,389.69" stroke-width="1.45"/><path d="M212.92,379.84 Q215.92,380.65 218.32,382.63" stroke-width="1"/><path d="M241.85,387.64 L239.69,388.17 L238.16,386.57 L238.77,384.44 L240.93,383.91 L242.46,385.51 Z" stroke-width="1.2"/><path d="M208.08,340.53 Q210.31,341.68 212.81,341.92" stroke-width="1.2"/><path d="M251.13,381.54 L246.1,383.08 L243.33,381.27" stroke-width="1"/><path d="M216.34,357.81 L214.49,358.79 L212.71,357.68 L212.78,355.58 L214.64,354.6 L216.41,355.71 Z" stroke-width="1.2"/><path d="M237.42,330.41 Q235.14,330.58 233.03,331.46" stroke-width="1.45"/><path d="M215.42,359.68 Q216.64,361.39 218.19,362.81" stroke-width="1"/><path d="M261.21,376.35 Q260.55,378.16 259.39,379.7" stroke-width="1.2"/><path d="M281.36,378.09 Q280.08,379.56 279.01,381.18" stroke-width="1.45"/><path d="M244.5,342.43 Q246.55,343.68 248.89,344.22" stroke-width="1.2"/><path d="M265.95,333.19 Q265.14,335.21 264.69,337.33" stroke-width="1"/><path d="M230.84,356.45 L229.59,358.5 L227.19,358.44 L226.04,356.33 L227.3,354.28 L229.7,354.34 Z" stroke-width="1.2"/><path d="M276.05,357.9 Q277.05,359.55 278.24,361.08" stroke-width="1"/><path d="M279.38,361.2 Q281.82,362.78 284.52,363.84" stroke-width="1.2"/><path d="M223.45,344.73 Q221.39,346.21 219.66,348.07" stroke-width="1.2"/><path d="M221.19,333.62 Q223.32,333.79 225.44,334.12" stroke-width="1"/><path d="M220.32,331.47 L218.25,331.82 L216.91,330.22 L217.63,328.25 L219.69,327.9 L221.04,329.5 Z" stroke-width="1.2"/><path d="M274.68,324.19 Q272.29,324.28 270.18,325.41" stroke-width="1.45"/><path d="M248.17,319.11 Q247.23,321.22 245.54,322.79" stroke-width="1"/><path d="M268.82,339.55 Q265.91,339.69 263.27,340.94" stroke-width="1.2"/><path d="M233.69,378.75 Q231.22,380.43 228.62,381.89" stroke-width="1.2"/><path d="M286.82,375.28 Q284.28,376.82 281.35,377.38" stroke-width="1"/><path d="M219.34,373.8 Q217.63,375.74 215.32,376.89" stroke-width="1.2"/><path d="M243.89,389.41 Q244.58,391.47 244.82,393.63" stroke-width="1"/><path d="M266.08,327.33 Q267.92,329.34 269.3,331.7" stroke-width="1.2"/><path d="M276.58,379.97 L274.49,380.32 L273.14,378.68 L273.89,376.7 L275.98,376.35 L277.33,377.99 Z" stroke-width="1.2"/><path d="M276.03,349.27 Q275.79,351.8 276.41,354.25" stroke-width="1.45"/><path d="M241.33,367.64 Q244.18,368.68 247.22,368.79" stroke-width="1.45"/><path d="M257.12,342.31 Q256.11,344.25 255.26,346.26" stroke-width="1.45"/><path d="M241.41,350.98 L239.28,352.33 L237.04,351.15 L236.95,348.62 L239.08,347.28 L241.32,348.46 Z" stroke-width="1.2"/><path d="M253.83,352.05 Q251.24,352.81 248.54,353.07" stroke-width="1.2"/><path d="M230.32,334.52 L228.4,335.15 L226.91,333.81 L227.32,331.84 L229.23,331.21 L230.73,332.55 Z" stroke-width="1.2"/><path d="M250.13,339.81 L253.26,343.74 L252.56,347.11" stroke-width="1"/><path d="M278.6,337.99 Q279.65,340.88 280.48,343.83" stroke-width="1.45"/><path d="M206.98,353.49 L208.39,359.2 L210.5,359.55" stroke-width="1"/><path d="M222.9,376.44 Q223.67,378.46 224.95,380.2" stroke-width="1"/><path d="M288.26,362.13 Q287.54,364.1 287.61,366.2" stroke-width="1.2"/><path d="M260.9,369.85 L262.42,373.68 L265.61,373.99" stroke-width="1.2"/><path d="M231.08,374.81 L236.12,377.09 L239.5,376.21" stroke-width="1.45"/><path d="M273.75,368.65 L277.92,368.87 L280.02,366.79" stroke-width="1.2"/><path d="M236.69,335.83 Q234.74,337.69 232.82,339.57" stroke-width="1.2"/><path d="M244.54,376.6 Q244.57,378.69 243.67,380.57" stroke-width="1"/><path d="M273.22,356.83 L271.71,358.63 L269.41,358.22 L268.6,356.02 L270.11,354.23 L272.41,354.63 Z" stroke-width="1.2"/><path d="M237.92,389.38 Q238.75,391.29 240.25,392.74" stroke-width="1"/><path d="M262.81,392.13 Q265.02,392.21 267.05,393.08" stroke-width="1.2"/><path d="M231.27,322.93 L234.54,328.03 L232.51,330.82" stroke-width="1.45"/><path d="M228,389.89 L231.42,394.59 L230.81,397.34" stroke-width="1"/><path d="M266.65,318.37 Q268.69,320.69 270.3,323.34" stroke-width="1.2"/><path d="M208.05,360.88 L207.48,364.71 L209.45,366.69" stroke-width="1"/><path d="M238.04,356.17 L241.56,358.07 L241.42,360.51" stroke-width="1.2"/><path d="M239.22,360.57 L241.12,364.89 L244.06,365.16" stroke-width="1"/><path d="M258.11,373.57 L254.42,376.48 L252.57,375.51" stroke-width="1.2"/><path d="M216.21,365.4 Q219.22,365.18 222.05,366.25" stroke-width="1.45"/><path d="M261.56,343.14 Q261.85,345.28 263.07,347.05" stroke-width="1.2"/><path d="M215.24,330.37 Q213.94,331.92 212.62,333.45" stroke-width="1"/><path d="M257.74,321.65 Q255.95,323.92 254.7,326.52" stroke-width="1.2"/><path d="M222,385.08 L220.83,386.85 L218.71,386.72 L217.76,384.82 L218.94,383.05 L221.06,383.18 Z" stroke-width="1.2"/><path d="M284.44,341.23 Q284.76,343.32 284.82,345.43" stroke-width="1.2"/><path d="M224.91,326.27 Q222.52,325.91 220.15,326.41" stroke-width="1.2"/><path d="M233.34,365.34 Q235.24,367.12 237.68,368.05" stroke-width="1.2"/><path d="M288.34,350.77 Q290.05,352.75 291.07,355.17" stroke-width="1.2"/><path d="M208.1,365.88 L206.72,370.23 L204.51,371.03" stroke-width="1"/><path d="M279.73,371.33 L277.73,375.72 L278.28,378.74" stroke-width="1.45"/><path d="M274.1,333.33 Q271.28,333.86 268.44,334.3" stroke-width="1"/><path d="M245.91,394.49 Q247.81,395.95 250.03,396.83" stroke-width="1.2"/><path d="M234.17,392.06 Q235.1,394.32 235.67,396.7" stroke-width="1.45"/><path d="M214.84,348.35 Q213.15,350.9 212.5,353.9" stroke-width="1.45"/><path d="M224.01,365.88 Q226.22,367.19 227.72,369.26" stroke-width="1.45"/><path d="M271.29,387.41 L266.32,390.95 L263.38,389.35" stroke-width="1.45"/><path d="M252.1,313.3 Q253.15,316.28 252.96,319.43" stroke-width="1"/><path d="M251.53,368.73 L249.14,368.99 L247.72,367.04 L248.7,364.85 L251.09,364.59 L252.5,366.54 Z" stroke-width="1.2"/><path d="M241.73,328.22 Q239.74,328.82 237.67,328.71" stroke-width="1.2"/><path d="M212.45,334.38 Q210.8,335.97 209.45,337.83" stroke-width="1"/><path d="M246.62,313.55 Q247.39,315.64 247.74,317.84" stroke-width="1.45"/><path d="M261.39,351.8 Q260.47,354.24 258.71,356.17" stroke-width="1.45"/><path d="M287.16,344.23 Q288.98,345.98 291.15,347.28" stroke-width="1"/><path d="M235.82,351.48 Q234.99,353.75 233.93,355.92" stroke-width="1.2"/><path d="M225.62,340.35 Q225.22,342.77 224.32,345.06" stroke-width="1"/><path d="M285.5,336.31 Q284.81,338.26 283.93,340.13" stroke-width="1"/><path d="M217.01,333.95 L216.43,338.91 L214.56,339.92" stroke-width="1.45"/></g>
<ellipse cx="264" cy="345" rx="11.55" ry="10.5" fill="url(#hl2)" opacity="0.55"/>
<linearGradient id="dr5" gradientUnits="userSpaceOnUse" x1="221" y1="321" x2="223" y2="329"><stop offset="0" stop-color="#d6f2fa" stop-opacity="0.5"/><stop offset="0.45" stop-color="#8ad8f0"/><stop offset="1" stop-color="#3fc2e6"/></linearGradient>
<path d="M220.03,321.24 L220.96,329.51 L225.04,328.49 L221.97,320.76 Z" fill="url(#dr5)"/>
<circle cx="223" cy="329" r="2.2" fill="#3fc0e4"/>
<linearGradient id="dr6" gradientUnits="userSpaceOnUse" x1="233.5" y1="315.5" x2="233.8" y2="323.4"><stop offset="0" stop-color="#d6f2fa" stop-opacity="0.5"/><stop offset="0.45" stop-color="#8ad8f0"/><stop offset="1" stop-color="#3fc2e6"/></linearGradient>
<path d="M232.5,315.54 L231.7,323.48 L235.9,323.32 L234.5,315.46 Z" fill="url(#dr6)"/>
<circle cx="233.8" cy="323.4" r="2.2" fill="#3fc0e4"/>
<linearGradient id="dr7" gradientUnits="userSpaceOnUse" x1="252" y1="322" x2="248.1" y2="329"><stop offset="0" stop-color="#d6f2fa" stop-opacity="0.5"/><stop offset="0.45" stop-color="#8ad8f0"/><stop offset="1" stop-color="#3fc2e6"/></linearGradient>
<path d="M251.13,321.51 L246.27,327.98 L249.93,330.02 L252.87,322.49 Z" fill="url(#dr7)"/>
<circle cx="248.1" cy="329" r="2.2" fill="#3fc0e4"/>
<linearGradient id="dr8" gradientUnits="userSpaceOnUse" x1="265" y1="330" x2="260" y2="334.8"><stop offset="0" stop-color="#d6f2fa" stop-opacity="0.5"/><stop offset="0.45" stop-color="#8ad8f0"/><stop offset="1" stop-color="#3fc2e6"/></linearGradient>
<path d="M264.31,329.28 L258.55,333.29 L261.45,336.31 L265.69,330.72 Z" fill="url(#dr8)"/>
<circle cx="260" cy="334.8" r="2.2" fill="#3fc0e4"/>
<linearGradient id="dr9" gradientUnits="userSpaceOnUse" x1="271.5" y1="318.5" x2="267.2" y2="324.6"><stop offset="0" stop-color="#d6f2fa" stop-opacity="0.5"/><stop offset="0.45" stop-color="#8ad8f0"/><stop offset="1" stop-color="#3fc2e6"/></linearGradient>
<path d="M270.68,317.92 L265.48,323.39 L268.92,325.81 L272.32,319.08 Z" fill="url(#dr9)"/>
<circle cx="267.2" cy="324.6" r="2.2" fill="#3fc0e4"/>
<rect x="217.1" y="369.4" width="20.3" height="20.3" rx="2.5" fill="none" stroke="#3aa9e0" stroke-width="0.9" stroke-dasharray="2.6,1.5"/>
<linearGradient id="bm2" x1="0" y1="0" x2="1" y2="0"><stop offset="0" stop-color="#9edcf0" stop-opacity="0.25"/><stop offset="1" stop-color="#62c4e6" stop-opacity="0.8"/></linearGradient>
<path d="M237.4,376.5 L306.2,368.5 L306.2,388 L237.4,383.5 Z" fill="url(#bm2)"/>
<rect x="306.2" y="360" width="49.5" height="39.4" rx="4.4" fill="none" stroke="#3aa9e0" stroke-width="1.3" stroke-dasharray="2.6,1.5"/>
<g fill="none" stroke="#6a6a6a" stroke-width="0.9" stroke-linecap="round"><path d="M315.13,365.93 C314.93,367.72 314.13,374.89 313.93,376.68"/><path d="M316.56,365.93 C316.36,367.72 315.57,374.89 315.37,376.68"/><path d="M318.71,365.93 C319.21,366.53 321.29,367.53 321.69,369.51 C322.09,371.5 321.19,376.48 321.1,377.87"/><path d="M325.87,363.55 C327.26,363.35 332.83,362.55 334.22,362.35"/><path d="M327.66,367.13 C327.66,368.32 327.66,373.1 327.66,374.29"/><path d="M330.05,368.32 C330.15,369.51 330.54,374.29 330.64,375.48"/><path d="M332.43,368.32 C332.63,369.61 333.43,374.79 333.63,376.08"/><path d="M336.61,365.34 C337.6,365.64 339.79,365.24 342.58,367.13 C345.36,369.02 351.53,375.08 353.32,376.68"/><path d="M336.61,366.89 C337.51,367.17 339.4,366.73 341.98,368.56 C344.57,370.39 350.43,376.32 352.13,377.87"/><path d="M307.37,385.63 C309.06,385.13 314.43,383.24 317.51,382.64 C320.6,382.05 322.49,382.25 325.87,382.05 C329.25,381.85 335.81,381.55 337.8,381.45"/><path d="M307.97,387.18 C309.56,386.68 314.53,384.79 317.51,384.19 C320.5,383.6 322.49,383.8 325.87,383.6 C329.25,383.4 335.81,383.1 337.8,383"/><path d="M310.35,389.8 C311.75,389.41 316.12,387.62 318.71,387.42 C321.29,387.22 323.48,387.81 325.87,388.61 C328.26,389.41 330.44,391.2 333.03,392.19 C335.62,393.19 339.99,394.18 341.38,394.58"/><path d="M329.45,389.8 C330.25,390.2 332.23,391.2 334.22,392.19 C336.21,393.19 339.2,395.07 341.38,395.77 C343.57,396.47 346.36,396.27 347.35,396.37"/><path d="M341.38,380.85 C342.98,380.99 349.38,380 350.93,381.69 C352.48,383.38 352.09,389.64 350.69,391 C349.3,392.35 344.13,391.49 342.58,389.8 C341.03,388.11 341.58,382.34 341.38,380.85"/><path d="M311.55,393.38 C312.34,392.79 314.13,390.2 316.32,389.8 C318.51,389.41 323.48,390 324.68,391 C325.87,391.99 325.47,394.98 323.48,395.77 C321.49,396.57 314.53,395.77 312.74,395.77"/></g>
<circle cx="312.74" cy="364.74" r="1.25" fill="#5fcde6"/>
<circle cx="323.48" cy="364.74" r="1.25" fill="#5fcde6"/>
<circle cx="336.61" cy="364.74" r="1.25" fill="#5fcde6"/>
<circle cx="349.74" cy="368.92" r="1.25" fill="#5fcde6"/>
<circle cx="349.74" cy="379.06" r="1.25" fill="#5fcde6"/>
<circle cx="313.93" cy="382.05" r="1.25" fill="#5fcde6"/>
<circle cx="333.63" cy="385.63" r="1.25" fill="#5fcde6"/>
<circle cx="310.35" cy="389.8" r="1.25" fill="#5fcde6"/>
<circle cx="336.61" cy="389.8" r="1.25" fill="#5fcde6"/>
<circle cx="344.96" cy="394.58" r="1.25" fill="#5fcde6"/>
<circle cx="317.51" cy="371.9" r="1.25" fill="#5fcde6"/>
<circle cx="334.22" cy="374.29" r="1.25" fill="#5fcde6"/>
<circle cx="325.87" cy="382.05" r="1.25" fill="#5fcde6"/>
<circle cx="330.64" cy="366.53" r="1.6" fill="#74329e"/>
<circle cx="322.89" cy="371.9" r="1.6" fill="#74329e"/>
<circle cx="324.68" cy="376.08" r="1.6" fill="#74329e"/>
<circle cx="320.5" cy="377.87" r="1.6" fill="#74329e"/>
<circle cx="328.26" cy="378.47" r="1.6" fill="#74329e"/>
<circle cx="340.19" cy="373.1" r="1.6" fill="#74329e"/>
<circle cx="345.56" cy="376.08" r="1.6" fill="#74329e"/>
<circle cx="337.8" cy="379.06" r="1.6" fill="#74329e"/>
<circle cx="319.31" cy="385.03" r="1.6" fill="#74329e"/>
<circle cx="324.68" cy="386.82" r="1.6" fill="#74329e"/>
<circle cx="346.16" cy="383.84" r="1.6" fill="#74329e"/>
<circle cx="347.35" cy="386.22" r="1.6" fill="#74329e"/>
<circle cx="344.96" cy="388.61" r="1.6" fill="#74329e"/>
<circle cx="315.13" cy="393.38" r="1.6" fill="#74329e"/>
<circle cx="319.9" cy="393.38" r="1.6" fill="#74329e"/>
<circle cx="322.89" cy="392.19" r="1.6" fill="#74329e"/>
<circle cx="335.42" cy="395.77" r="1.6" fill="#74329e"/>
<text x="304.6" y="351.6" font-size="7.9" text-anchor="start" fill="#111" stroke="#111" stroke-width="0.22" style="font-family:'Liberation Serif',serif;font-weight:bold;"><tspan font-style="italic">d</tspan><tspan dy="1.7" font-size="5.4" font-style="italic">002</tspan><tspan dy="-1.7">=0.3914 nm</tspan></text>
<rect x="208.6" y="402.3" width="80.4" height="13.4" rx="3" fill="#fbfdfd" stroke="#3aa9e0" stroke-width="1.1" stroke-dasharray="2.4,1.4"/>
<path d="M217.3,404.9 L218.36,407.74 L221.39,407.87 L219.01,409.76 L219.83,412.68 L217.3,411 L214.77,412.68 L215.59,409.76 L213.21,407.87 L216.24,407.74 Z" fill="#e8392a"/>
<text x="0" y="0" font-size="8.4" text-anchor="start" fill="#e53430" stroke="#e53430" stroke-width="0.22" style="font-family:'Liberation Serif',serif;font-weight:bold;" transform="translate(223.3 412) scale(0.97,1)">D<tspan dy="1.8" font-size="5.0">Na+</tspan><tspan dy="-1.8">: 10</tspan><tspan dy="-3.3" font-size="5.2">-6.88</tspan><tspan dy="3.3"> ~ 10</tspan><tspan dy="-3.3" font-size="5.2">-7.48</tspan></text>
<radialGradient id="sg3" cx="0.55" cy="0.42" r="0.62"><stop offset="0" stop-color="#e4f0de"/><stop offset="0.6" stop-color="#d5e5cc"/><stop offset="0.9" stop-color="#c6d8bc"/><stop offset="1" stop-color="#b8cbad"/></radialGradient>
<radialGradient id="hl3"><stop offset="0" stop-color="#ffffff" stop-opacity="1"/><stop offset="0.55" stop-color="#ffffff" stop-opacity="0.92"/><stop offset="1" stop-color="#ffffff" stop-opacity="0"/></radialGradient>
<ellipse cx="417.5" cy="356.4" rx="45" ry="42.6" fill="url(#sg3)" stroke="#9aa88e" stroke-width="0.6"/>
<ellipse cx="434" cy="341.5" rx="12.1" ry="11" fill="url(#hl3)"/>
<g fill="none" stroke-linecap="butt" stroke-linejoin="miter"><path d="M402.46,333.12 L411.13,333.8 L414.56,330.54" stroke="#959595" stroke-width="2.75"/><path d="M423.79,369.72 L425.24,375.48 L428.9,377.7" stroke="#959595" stroke-width="2.53"/><path d="M421.15,342.12 L423.4,350.84" stroke="#9e9e9e" stroke-width="2.9"/><path d="M440.61,361.33 L436.08,364.5 L436.14,367.84" stroke="#9e9e9e" stroke-width="3.13"/><path d="M439.96,369.27 L445.65,371.06" stroke="#9e9e9e" stroke-width="3.26"/><path d="M448.56,346.69 L447.52,355.78 L444.05,357.87" stroke="#888888" stroke-width="3.38"/><path d="M438.77,323.31 L436.41,332.83" stroke="#8c8c8c" stroke-width="3.13"/><path d="M436.1,366.47 L426.74,366.91" stroke="#8c8c8c" stroke-width="3.27"/><path d="M451.56,330.26 L444.83,334.13 L440.84,332.76" stroke="#9e9e9e" stroke-width="2.65"/><path d="M439.07,373.53 L436.66,378.86 L432.46,381.22" stroke="#959595" stroke-width="2.98"/><path d="M380.3,368.03 L387.2,373.73 L390.62,372.99" stroke="#8c8c8c" stroke-width="2.79"/><path d="M451.5,338.69 L445.88,340.27 L441.52,338.29" stroke="#9e9e9e" stroke-width="3.01"/><path d="M406.52,367.44 L411.77,373.2" stroke="#9e9e9e" stroke-width="2.72"/><path d="M414.75,372.15 L412.77,379.53" stroke="#959595" stroke-width="2.83"/><path d="M418.14,388.37 L424.03,389.25" stroke="#959595" stroke-width="2.6"/><path d="M427.73,340.47 L435.19,341.98" stroke="#888888" stroke-width="2.84"/><path d="M455.9,375.62 L446.52,380.01" stroke="#8c8c8c" stroke-width="2.51"/><path d="M391.52,348.02 L396.99,354.11 L401.85,354.65" stroke="#8c8c8c" stroke-width="3.08"/><path d="M406.11,348.5 L412.8,355.78" stroke="#959595" stroke-width="2.95"/><path d="M392.69,369.47 L390.38,375.04 L392.01,379.18" stroke="#959595" stroke-width="3.26"/><path d="M393.35,390.26 L401.5,390.27 L404.2,393.97" stroke="#8c8c8c" stroke-width="2.79"/><path d="M403.22,388.58 L410.14,389.85 L412.43,394.23" stroke="#8c8c8c" stroke-width="3.29"/><path d="M388.02,326.22 L395.56,329.37 L396.48,334.1" stroke="#959595" stroke-width="3.09"/><path d="M435.1,315.45 L429.88,323.12" stroke="#888888" stroke-width="3.14"/><path d="M393,357.82 L394.69,366.4 L397.71,368.98" stroke="#8c8c8c" stroke-width="2.97"/><path d="M383.9,339.72 L389.02,343.96 L391.63,343.33" stroke="#8c8c8c" stroke-width="2.56"/><path d="M423.92,353.33 L420.54,359.1" stroke="#959595" stroke-width="2.69"/><path d="M426.73,389.22 L424.38,398.85" stroke="#888888" stroke-width="2.72"/><path d="M426.87,356.54 L433.03,358.47" stroke="#888888" stroke-width="2.89"/><path d="M426.13,328.05 L435.81,329.71 L437.14,332.15" stroke="#8c8c8c" stroke-width="3.09"/><path d="M379.32,354.03 L378.59,360.44 L380.56,362.27" stroke="#959595" stroke-width="2.63"/><path d="M438.14,390.26 L429.56,394.43" stroke="#8c8c8c" stroke-width="2.59"/><path d="M432.08,382.16 L423.07,386.79" stroke="#888888" stroke-width="2.65"/><path d="M430.66,332.17 L421.29,335.14" stroke="#8c8c8c" stroke-width="2.65"/><path d="M392.75,380.08 L387.43,384.36" stroke="#888888" stroke-width="2.91"/><path d="M405.08,342.16 L397.96,347.92 L395.32,348.11" stroke="#888888" stroke-width="3.1"/><path d="M414.24,325.58 L423.25,327.33" stroke="#8c8c8c" stroke-width="2.78"/><path d="M423.51,361.97 L416.34,365.55" stroke="#8c8c8c" stroke-width="2.64"/><path d="M441.9,385.89 L447.61,387.12 L449.79,385.71" stroke="#888888" stroke-width="3.28"/><path d="M383.46,344.32 L380.65,349.52" stroke="#9e9e9e" stroke-width="3.01"/><path d="M442.27,342.98 L438.17,348.05 L433.41,348.83" stroke="#888888" stroke-width="2.71"/><path d="M410.96,335.16 L421.13,335.46 L423.25,333.59" stroke="#8c8c8c" stroke-width="3.06"/><path d="M393.32,320.9 L400.39,322.46 L402.98,326.69" stroke="#9e9e9e" stroke-width="2.72"/><path d="M409.27,320.71 L418.04,320.92" stroke="#9e9e9e" stroke-width="3.24"/><path d="M453.11,358.46 L447.53,360.71" stroke="#8c8c8c" stroke-width="2.74"/><path d="M394.78,334.39 L398.75,339.25 L398.54,342.37" stroke="#9e9e9e" stroke-width="2.69"/><path d="M388.3,342.5 L398.21,344.1 L400.27,347.64" stroke="#9e9e9e" stroke-width="3.07"/><path d="M458.03,361.94 L453.35,366.88" stroke="#888888" stroke-width="3"/><path d="M444.76,333.58 L438.79,334.62" stroke="#959595" stroke-width="3.12"/><path d="M409.89,378.17 L407.41,387.52 L403.21,389.11" stroke="#959595" stroke-width="2.63"/><path d="M440.72,351.33 L431.4,354.39" stroke="#959595" stroke-width="2.69"/><path d="M408.81,355.75 L407.45,362.89" stroke="#959595" stroke-width="3.29"/><path d="M454.25,350.12 L460.09,353.39" stroke="#959595" stroke-width="3.22"/><path d="M430.81,375.81 L427,379.95" stroke="#888888" stroke-width="2.8"/><path d="M403.85,377.1 L395.71,382.6" stroke="#8c8c8c" stroke-width="2.74"/><path d="M418.77,377.47 L419.29,383.14" stroke="#888888" stroke-width="2.68"/><path d="M434.1,347.3 L425.27,351.07" stroke="#959595" stroke-width="2.7"/><path d="M378.83,362.25 L385.56,363.74" stroke="#9e9e9e" stroke-width="3.2"/><path d="M389.08,334.5 L381.59,334.95 L377.36,332.47" stroke="#8c8c8c" stroke-width="2.98"/><path d="M432.55,383.58 L438.98,385.86" stroke="#9e9e9e" stroke-width="2.89"/><path d="M405.67,337.45 L415.42,341.16 L418.54,344.82" stroke="#959595" stroke-width="3.31"/><path d="M455.19,343 L449.98,349.33" stroke="#959595" stroke-width="3.17"/><path d="M405.08,324.36 L402.2,329.45" stroke="#9e9e9e" stroke-width="2.8"/><path d="M403.51,357.62 L397.69,359.51" stroke="#888888" stroke-width="2.96"/><path d="M416.5,350.5 L414.97,359.35" stroke="#888888" stroke-width="2.67"/><path d="M444.71,352.01 L441.16,361.38" stroke="#8c8c8c" stroke-width="2.77"/><path d="M401.56,370.75 L396.44,374.84" stroke="#9e9e9e" stroke-width="3.05"/><path d="M421.92,321.23 L427.95,326.03" stroke="#959595" stroke-width="2.93"/><path d="M416.29,383.07 L412.88,389.09" stroke="#8c8c8c" stroke-width="3.06"/><path d="M388.26,351.2 L383.47,359.12 L383.77,362.8" stroke="#959595" stroke-width="2.7"/><path d="M444.73,365.61 L454.22,367.82" stroke="#959595" stroke-width="2.87"/><path d="M381.78,374.36 L384.08,381.41" stroke="#8c8c8c" stroke-width="2.63"/><path d="M415.94,392.2 L406.77,395.65 L403.69,395.13" stroke="#959595" stroke-width="3.2"/><path d="M416.95,365.43 L418.28,375.09" stroke="#9e9e9e" stroke-width="3.22"/><path d="M407.42,371.82 L403.97,381.16" stroke="#888888" stroke-width="3.15"/><path d="M448.35,377.78 L440.54,380.39" stroke="#888888" stroke-width="3.17"/><path d="M424.59,316.12 L416.48,320.59" stroke="#888888" stroke-width="2.75"/><path d="M431.11,334.47 L437.78,336.12" stroke="#9e9e9e" stroke-width="2.76"/><path d="M406.75,326.7 L416.4,329.2" stroke="#888888" stroke-width="2.64"/><path d="M397.54,350.84 L406.39,352.65" stroke="#888888" stroke-width="2.87"/><path d="M404.98,314.77 L406.61,321.1" stroke="#8c8c8c" stroke-width="3.31"/><path d="M454.59,367.47 L458.02,376.15 L455.46,380.31" stroke="#9e9e9e" stroke-width="2.51"/><path d="M382.7,337.41 L377.38,342.82" stroke="#959595" stroke-width="2.99"/><path d="M414.57,342.07 L414.88,348.93" stroke="#888888" stroke-width="2.85"/><path d="M448.9,324.59 L439.51,327.01" stroke="#8c8c8c" stroke-width="3.38"/><path d="M457.91,335.91 L453.77,343.29 L450.95,344.71" stroke="#888888" stroke-width="2.58"/><path d="M418.69,392.8 L419.7,399.87 L418.44,402.26" stroke="#888888" stroke-width="2.8"/></g>
<g fill="none" stroke="#b9b9b9" stroke-width="0.6" stroke-linecap="butt" stroke-linejoin="miter"><path d="M402.46,333.12 L411.13,333.8 L414.56,330.54"/><path d="M423.79,369.72 L425.24,375.48 L428.9,377.7"/><path d="M421.15,342.12 L423.4,350.84"/><path d="M440.61,361.33 L436.08,364.5 L436.14,367.84"/><path d="M439.96,369.27 L445.65,371.06"/><path d="M448.56,346.69 L447.52,355.78 L444.05,357.87"/><path d="M438.77,323.31 L436.41,332.83"/><path d="M436.1,366.47 L426.74,366.91"/><path d="M451.56,330.26 L444.83,334.13 L440.84,332.76"/><path d="M439.07,373.53 L436.66,378.86 L432.46,381.22"/><path d="M380.3,368.03 L387.2,373.73 L390.62,372.99"/><path d="M451.5,338.69 L445.88,340.27 L441.52,338.29"/><path d="M406.52,367.44 L411.77,373.2"/><path d="M414.75,372.15 L412.77,379.53"/><path d="M418.14,388.37 L424.03,389.25"/><path d="M427.73,340.47 L435.19,341.98"/><path d="M455.9,375.62 L446.52,380.01"/><path d="M391.52,348.02 L396.99,354.11 L401.85,354.65"/><path d="M406.11,348.5 L412.8,355.78"/><path d="M392.69,369.47 L390.38,375.04 L392.01,379.18"/><path d="M393.35,390.26 L401.5,390.27 L404.2,393.97"/><path d="M403.22,388.58 L410.14,389.85 L412.43,394.23"/><path d="M388.02,326.22 L395.56,329.37 L396.48,334.1"/><path d="M435.1,315.45 L429.88,323.12"/><path d="M393,357.82 L394.69,366.4 L397.71,368.98"/><path d="M383.9,339.72 L389.02,343.96 L391.63,343.33"/><path d="M423.92,353.33 L420.54,359.1"/><path d="M426.73,389.22 L424.38,398.85"/><path d="M426.87,356.54 L433.03,358.47"/><path d="M426.13,328.05 L435.81,329.71 L437.14,332.15"/><path d="M379.32,354.03 L378.59,360.44 L380.56,362.27"/><path d="M438.14,390.26 L429.56,394.43"/><path d="M432.08,382.16 L423.07,386.79"/><path d="M430.66,332.17 L421.29,335.14"/><path d="M392.75,380.08 L387.43,384.36"/><path d="M405.08,342.16 L397.96,347.92 L395.32,348.11"/><path d="M414.24,325.58 L423.25,327.33"/><path d="M423.51,361.97 L416.34,365.55"/><path d="M441.9,385.89 L447.61,387.12 L449.79,385.71"/><path d="M383.46,344.32 L380.65,349.52"/><path d="M442.27,342.98 L438.17,348.05 L433.41,348.83"/><path d="M410.96,335.16 L421.13,335.46 L423.25,333.59"/><path d="M393.32,320.9 L400.39,322.46 L402.98,326.69"/><path d="M409.27,320.71 L418.04,320.92"/><path d="M453.11,358.46 L447.53,360.71"/><path d="M394.78,334.39 L398.75,339.25 L398.54,342.37"/><path d="M388.3,342.5 L398.21,344.1 L400.27,347.64"/><path d="M458.03,361.94 L453.35,366.88"/><path d="M444.76,333.58 L438.79,334.62"/><path d="M409.89,378.17 L407.41,387.52 L403.21,389.11"/><path d="M440.72,351.33 L431.4,354.39"/><path d="M408.81,355.75 L407.45,362.89"/><path d="M454.25,350.12 L460.09,353.39"/><path d="M430.81,375.81 L427,379.95"/><path d="M403.85,377.1 L395.71,382.6"/><path d="M418.77,377.47 L419.29,383.14"/><path d="M434.1,347.3 L425.27,351.07"/><path d="M378.83,362.25 L385.56,363.74"/><path d="M389.08,334.5 L381.59,334.95 L377.36,332.47"/><path d="M432.55,383.58 L438.98,385.86"/><path d="M405.67,337.45 L415.42,341.16 L418.54,344.82"/><path d="M455.19,343 L449.98,349.33"/><path d="M405.08,324.36 L402.2,329.45"/><path d="M403.51,357.62 L397.69,359.51"/><path d="M416.5,350.5 L414.97,359.35"/><path d="M444.71,352.01 L441.16,361.38"/><path d="M401.56,370.75 L396.44,374.84"/><path d="M421.92,321.23 L427.95,326.03"/><path d="M416.29,383.07 L412.88,389.09"/><path d="M388.26,351.2 L383.47,359.12 L383.77,362.8"/><path d="M444.73,365.61 L454.22,367.82"/><path d="M381.78,374.36 L384.08,381.41"/><path d="M415.94,392.2 L406.77,395.65 L403.69,395.13"/><path d="M416.95,365.43 L418.28,375.09"/><path d="M407.42,371.82 L403.97,381.16"/><path d="M448.35,377.78 L440.54,380.39"/><path d="M424.59,316.12 L416.48,320.59"/><path d="M431.11,334.47 L437.78,336.12"/><path d="M406.75,326.7 L416.4,329.2"/><path d="M397.54,350.84 L406.39,352.65"/><path d="M404.98,314.77 L406.61,321.1"/><path d="M454.59,367.47 L458.02,376.15 L455.46,380.31"/><path d="M382.7,337.41 L377.38,342.82"/><path d="M414.57,342.07 L414.88,348.93"/><path d="M448.9,324.59 L439.51,327.01"/><path d="M457.91,335.91 L453.77,343.29 L450.95,344.71"/><path d="M418.69,392.8 L419.7,399.87 L418.44,402.26"/></g>
<ellipse cx="434" cy="341" rx="13.2" ry="12" fill="url(#hl3)" opacity="0.6"/>
<linearGradient id="dr10" gradientUnits="userSpaceOnUse" x1="383" y1="327.5" x2="389.3" y2="332.6"><stop offset="0" stop-color="#d6f2fa" stop-opacity="0.5"/><stop offset="0.45" stop-color="#8ad8f0"/><stop offset="1" stop-color="#3fc2e6"/></linearGradient>
<path d="M382.37,328.28 L387.98,334.23 L390.62,330.97 L383.63,326.72 Z" fill="url(#dr10)"/>
<circle cx="389.3" cy="332.6" r="2.2" fill="#3fc0e4"/>
<linearGradient id="dr11" gradientUnits="userSpaceOnUse" x1="419.6" y1="316" x2="421.9" y2="323.8"><stop offset="0" stop-color="#d6f2fa" stop-opacity="0.5"/><stop offset="0.45" stop-color="#8ad8f0"/><stop offset="1" stop-color="#3fc2e6"/></linearGradient>
<path d="M418.64,316.28 L419.89,324.39 L423.91,323.21 L420.56,315.72 Z" fill="url(#dr11)"/>
<circle cx="421.9" cy="323.8" r="2.2" fill="#3fc0e4"/>
<linearGradient id="dr12" gradientUnits="userSpaceOnUse" x1="451.5" y1="325" x2="448.2" y2="331.3"><stop offset="0" stop-color="#d6f2fa" stop-opacity="0.5"/><stop offset="0.45" stop-color="#8ad8f0"/><stop offset="1" stop-color="#3fc2e6"/></linearGradient>
<path d="M450.61,324.54 L446.34,330.33 L450.06,332.27 L452.39,325.46 Z" fill="url(#dr12)"/>
<circle cx="448.2" cy="331.3" r="2.2" fill="#3fc0e4"/>
<rect x="386" y="368.9" width="20.8" height="20.1" rx="2.5" fill="none" stroke="#3aa9e0" stroke-width="0.9" stroke-dasharray="2.6,1.5"/>
<linearGradient id="bm3" x1="0" y1="0" x2="1" y2="0"><stop offset="0" stop-color="#9edcf0" stop-opacity="0.25"/><stop offset="1" stop-color="#62c4e6" stop-opacity="0.8"/></linearGradient>
<path d="M406.8,377.5 L475.4,368.5 L475.4,381.5 L406.8,385.5 Z" fill="url(#bm3)"/>
<rect x="475.4" y="359.4" width="48.9" height="40" rx="4.4" fill="none" stroke="#3aa9e0" stroke-width="1.3" stroke-dasharray="2.6,1.5"/>
<g fill="none" stroke="#6a6a6a" stroke-width="0.8" stroke-linecap="round"><path d="M484.08,361.64 C487.31,361.94 497.01,360.72 503.42,363.43 C509.82,366.13 519.33,375.46 522.51,377.87"/><path d="M484.08,362.89 C487.31,363.19 497.01,361.97 503.42,364.68 C509.82,367.38 519.33,376.71 522.51,379.12"/><path d="M484.08,364.14 C487.31,364.44 497.01,363.22 503.42,365.93 C509.82,368.63 519.33,377.96 522.51,380.37"/><path d="M484.08,365.39 C487.31,365.69 497.01,364.47 503.42,367.18 C509.82,369.88 519.33,379.21 522.51,381.62"/><path d="M484.08,366.64 C487.31,366.94 497.01,365.72 503.42,368.43 C509.82,371.13 519.33,380.46 522.51,382.87"/><path d="M478.35,392.91 C479.55,391.67 480.34,386.34 485.51,385.51 C490.69,384.67 505.41,387.5 509.38,387.89"/><path d="M478.35,394.16 C479.55,392.92 480.34,387.59 485.51,386.76 C490.69,385.92 505.41,388.75 509.38,389.14"/><path d="M478.35,395.41 C479.55,394.17 480.34,388.84 485.51,388.01 C490.69,387.17 505.41,390 509.38,390.39"/><path d="M478.35,396.66 C479.55,395.42 480.34,390.09 485.51,389.26 C490.69,388.42 505.41,391.25 509.38,391.64"/><path d="M479.55,375.72 C479.95,376.02 481.34,376.42 481.93,377.51 C482.53,378.61 482.93,381.49 483.13,382.28"/><path d="M480.65,375.72 C481.05,376.02 482.44,376.42 483.03,377.51 C483.63,378.61 484.03,381.49 484.23,382.28"/><path d="M481.75,375.72 C482.15,376.02 483.54,376.42 484.13,377.51 C484.73,378.61 485.13,381.49 485.33,382.28"/><path d="M495.66,374.89 C495.56,375.52 494.86,377.63 495.06,378.7 C495.26,379.78 495.9,380.81 496.85,381.33 C497.81,381.85 500.13,381.73 500.79,381.81"/><path d="M496.66,375.39 C496.56,376.02 495.86,378.13 496.06,379.2 C496.26,380.28 496.9,381.31 497.85,381.83 C498.81,382.35 501.13,382.23 501.79,382.31"/><path d="M497.66,375.89 C497.56,376.52 496.86,378.63 497.06,379.7 C497.26,380.78 497.9,381.81 498.85,382.33 C499.81,382.85 502.13,382.73 502.79,382.81"/><path d="M509.98,391.95 L519.53,385.75"/><path d="M510.98,392.55 L520.53,386.35"/><path d="M511.98,393.15 L521.53,386.95"/><path d="M512.98,393.75 L522.53,387.55"/><path d="M513.98,394.35 L523.53,388.15"/><path d="M492.68,392.19 C492.44,392.79 491.64,394.68 491.24,395.77 C490.85,396.87 490.45,398.26 490.29,398.75"/></g>
<circle cx="485.51" cy="362.95" r="1.25" fill="#5fcde6"/>
<circle cx="492.68" cy="370.11" r="1.25" fill="#5fcde6"/>
<circle cx="511.77" cy="366.53" r="1.25" fill="#5fcde6"/>
<circle cx="518.93" cy="373.1" r="1.25" fill="#5fcde6"/>
<circle cx="480.74" cy="373.69" r="1.25" fill="#5fcde6"/>
<circle cx="504.01" cy="375.48" r="1.25" fill="#5fcde6"/>
<circle cx="489.1" cy="382.05" r="1.25" fill="#5fcde6"/>
<circle cx="510.58" cy="380.85" r="1.25" fill="#5fcde6"/>
<circle cx="493.27" cy="389.8" r="1.25" fill="#5fcde6"/>
<circle cx="502.82" cy="392.19" r="1.25" fill="#5fcde6"/>
<circle cx="510.58" cy="388.61" r="1.25" fill="#5fcde6"/>
<circle cx="486.11" cy="393.38" r="1.25" fill="#5fcde6"/>
<circle cx="521.32" cy="385.63" r="1.25" fill="#5fcde6"/>
<text x="478" y="349.3" font-size="7.9" text-anchor="start" fill="#111" stroke="#111" stroke-width="0.22" style="font-family:'Liberation Serif',serif;font-weight:bold;"><tspan font-style="italic">d</tspan><tspan dy="1.7" font-size="5.4" font-style="italic">002</tspan><tspan dy="-1.7">=0.356 nm</tspan></text>
<text x="0" y="0" font-size="8.4" text-anchor="start" fill="#e53430" stroke="#e53430" stroke-width="0.22" style="font-family:'Liberation Serif',serif;font-weight:bold;" transform="translate(390.9 409.1) scale(0.97,1)">D<tspan dy="1.8" font-size="5.0">Na+</tspan><tspan dy="-1.8">: 10</tspan><tspan dy="-3.3" font-size="5.2">-8.06</tspan><tspan dy="3.3"> ~ 10</tspan><tspan dy="-3.3" font-size="5.2">-8.20</tspan></text>
</svg>
</body></html>
